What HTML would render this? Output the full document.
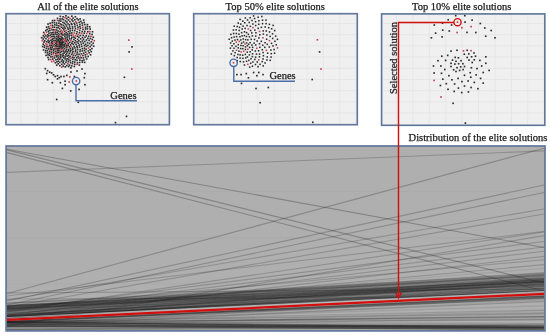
<!DOCTYPE html><html><head><meta charset="utf-8"><style>html,body{margin:0;padding:0;background:#fff;overflow:hidden}svg{display:block}</style></head><body><svg width="550" height="335" viewBox="0 0 550 335"><rect width="550" height="335" fill="#fff"/><rect x="6" y="13.7" width="163.4" height="111.0" fill="#f0f0f1"/><g stroke="#e5e5e7" stroke-width="0.9"><line x1="20.9" y1="14.7" x2="20.9" y2="123.7"/><line x1="37.3" y1="14.7" x2="37.3" y2="123.7"/><line x1="53.7" y1="14.7" x2="53.7" y2="123.7"/><line x1="70.1" y1="14.7" x2="70.1" y2="123.7"/><line x1="86.5" y1="14.7" x2="86.5" y2="123.7"/><line x1="102.9" y1="14.7" x2="102.9" y2="123.7"/><line x1="119.3" y1="14.7" x2="119.3" y2="123.7"/><line x1="135.7" y1="14.7" x2="135.7" y2="123.7"/><line x1="152.1" y1="14.7" x2="152.1" y2="123.7"/><line x1="7" y1="23.5" x2="168.4" y2="23.5"/><line x1="7" y1="34.7" x2="168.4" y2="34.7"/><line x1="7" y1="45.9" x2="168.4" y2="45.9"/><line x1="7" y1="57.1" x2="168.4" y2="57.1"/><line x1="7" y1="68.3" x2="168.4" y2="68.3"/><line x1="7" y1="79.5" x2="168.4" y2="79.5"/><line x1="7" y1="90.7" x2="168.4" y2="90.7"/><line x1="7" y1="101.9" x2="168.4" y2="101.9"/><line x1="7" y1="113.1" x2="168.4" y2="113.1"/></g><rect x="193.7" y="13.7" width="163.60000000000002" height="111.0" fill="#f0f0f1"/><g stroke="#e5e5e7" stroke-width="0.9"><line x1="208.6" y1="14.7" x2="208.6" y2="123.7"/><line x1="225.0" y1="14.7" x2="225.0" y2="123.7"/><line x1="241.4" y1="14.7" x2="241.4" y2="123.7"/><line x1="257.8" y1="14.7" x2="257.8" y2="123.7"/><line x1="274.2" y1="14.7" x2="274.2" y2="123.7"/><line x1="290.6" y1="14.7" x2="290.6" y2="123.7"/><line x1="307.0" y1="14.7" x2="307.0" y2="123.7"/><line x1="323.4" y1="14.7" x2="323.4" y2="123.7"/><line x1="339.8" y1="14.7" x2="339.8" y2="123.7"/><line x1="356.2" y1="14.7" x2="356.2" y2="123.7"/><line x1="194.7" y1="23.5" x2="356.3" y2="23.5"/><line x1="194.7" y1="34.7" x2="356.3" y2="34.7"/><line x1="194.7" y1="45.9" x2="356.3" y2="45.9"/><line x1="194.7" y1="57.1" x2="356.3" y2="57.1"/><line x1="194.7" y1="68.3" x2="356.3" y2="68.3"/><line x1="194.7" y1="79.5" x2="356.3" y2="79.5"/><line x1="194.7" y1="90.7" x2="356.3" y2="90.7"/><line x1="194.7" y1="101.9" x2="356.3" y2="101.9"/><line x1="194.7" y1="113.1" x2="356.3" y2="113.1"/></g><rect x="381.6" y="13.9" width="163.19999999999993" height="111.39999999999999" fill="#f0f0f1"/><g stroke="#e5e5e7" stroke-width="0.9"><line x1="396.5" y1="14.9" x2="396.5" y2="124.3"/><line x1="412.9" y1="14.9" x2="412.9" y2="124.3"/><line x1="429.3" y1="14.9" x2="429.3" y2="124.3"/><line x1="445.7" y1="14.9" x2="445.7" y2="124.3"/><line x1="462.1" y1="14.9" x2="462.1" y2="124.3"/><line x1="478.5" y1="14.9" x2="478.5" y2="124.3"/><line x1="494.9" y1="14.9" x2="494.9" y2="124.3"/><line x1="511.3" y1="14.9" x2="511.3" y2="124.3"/><line x1="527.7" y1="14.9" x2="527.7" y2="124.3"/><line x1="382.6" y1="23.5" x2="543.8" y2="23.5"/><line x1="382.6" y1="34.7" x2="543.8" y2="34.7"/><line x1="382.6" y1="45.9" x2="543.8" y2="45.9"/><line x1="382.6" y1="57.1" x2="543.8" y2="57.1"/><line x1="382.6" y1="68.3" x2="543.8" y2="68.3"/><line x1="382.6" y1="79.5" x2="543.8" y2="79.5"/><line x1="382.6" y1="90.7" x2="543.8" y2="90.7"/><line x1="382.6" y1="101.9" x2="543.8" y2="101.9"/><line x1="382.6" y1="113.1" x2="543.8" y2="113.1"/></g><rect x="61.51" y="42.01" width="1.65" height="1.65" fill="#2b2b2b"/><rect x="60.88" y="42.12" width="1.65" height="1.65" fill="#2b2b2b"/><rect x="61.89" y="41.10" width="1.65" height="1.65" fill="#2b2b2b"/><rect x="61.68" y="43.20" width="1.65" height="1.65" fill="#2b2b2b"/><rect x="60.08" y="41.37" width="1.65" height="1.65" fill="#2b2b2b"/><rect x="62.93" y="41.34" width="1.65" height="1.65" fill="#2b2b2b"/><rect x="60.77" y="43.74" width="1.65" height="1.65" fill="#2b2b2b"/><rect x="61.21" y="39.94" width="1.65" height="1.65" fill="#2b2b2b"/><rect x="63.60" y="43.57" width="1.65" height="1.65" fill="#2b2b2b"/><rect x="59.76" y="42.12" width="1.65" height="1.65" fill="#2b2b2b"/><rect x="63.88" y="39.92" width="1.65" height="1.65" fill="#c43f48"/><rect x="62.26" y="44.32" width="1.65" height="1.65" fill="#2b2b2b"/><rect x="60.01" y="39.76" width="1.65" height="1.65" fill="#c43f48"/><rect x="64.70" y="42.40" width="1.65" height="1.65" fill="#2b2b2b"/><rect x="59.62" y="43.76" width="1.65" height="1.65" fill="#2b2b2b"/><rect x="62.77" y="38.88" width="1.65" height="1.65" fill="#c43f48"/><rect x="63.92" y="44.24" width="1.65" height="1.65" fill="#2b2b2b"/><rect x="58.80" y="40.88" width="1.65" height="1.65" fill="#2b2b2b"/><rect x="65.37" y="40.29" width="1.65" height="1.65" fill="#2b2b2b"/><rect x="61.01" y="45.21" width="1.65" height="1.65" fill="#2b2b2b"/><rect x="60.94" y="38.45" width="1.65" height="1.65" fill="#2b2b2b"/><rect x="65.92" y="43.56" width="1.65" height="1.65" fill="#c43f48"/><rect x="58.63" y="43.06" width="1.65" height="1.65" fill="#2b2b2b"/><rect x="64.40" y="38.75" width="1.65" height="1.65" fill="#c43f48"/><rect x="63.51" y="45.59" width="1.65" height="1.65" fill="#2b2b2b"/><rect x="59.49" y="39.24" width="1.65" height="1.65" fill="#2b2b2b"/><rect x="66.63" y="41.46" width="1.65" height="1.65" fill="#c43f48"/><rect x="59.58" y="45.10" width="1.65" height="1.65" fill="#2b2b2b"/><rect x="62.08" y="37.56" width="1.65" height="1.65" fill="#2b2b2b"/><rect x="65.98" y="45.02" width="1.65" height="1.65" fill="#2b2b2b"/><rect x="58.36" y="41.48" width="1.65" height="1.65" fill="#2b2b2b"/><rect x="66.39" y="38.86" width="1.65" height="1.65" fill="#2b2b2b"/><rect x="62.15" y="46.47" width="1.65" height="1.65" fill="#2b2b2b"/><rect x="60.20" y="38.13" width="1.65" height="1.65" fill="#2b2b2b"/><rect x="67.56" y="42.95" width="1.65" height="1.65" fill="#2b2b2b"/><rect x="58.14" y="44.42" width="1.65" height="1.65" fill="#2b2b2b"/><rect x="64.46" y="37.24" width="1.65" height="1.65" fill="#2b2b2b"/><rect x="65.27" y="46.31" width="1.65" height="1.65" fill="#2b2b2b"/><rect x="57.92" y="39.85" width="1.65" height="1.65" fill="#2b2b2b"/><rect x="67.60" y="39.88" width="1.65" height="1.65" fill="#2b2b2b"/><rect x="60.18" y="46.30" width="1.65" height="1.65" fill="#2b2b2b"/><rect x="61.21" y="36.58" width="1.65" height="1.65" fill="#2b2b2b"/><rect x="67.45" y="44.56" width="1.65" height="1.65" fill="#2b2b2b"/><rect x="57.32" y="42.96" width="1.65" height="1.65" fill="#c43f48"/><rect x="66.25" y="37.10" width="1.65" height="1.65" fill="#2b2b2b"/><rect x="63.59" y="47.80" width="1.65" height="1.65" fill="#2b2b2b"/><rect x="58.93" y="37.94" width="1.65" height="1.65" fill="#2b2b2b"/><rect x="68.95" y="41.64" width="1.65" height="1.65" fill="#2b2b2b"/><rect x="58.53" y="46.07" width="1.65" height="1.65" fill="#2b2b2b"/><rect x="64.01" y="35.30" width="1.65" height="1.65" fill="#2b2b2b"/><rect x="66.73" y="46.45" width="1.65" height="1.65" fill="#c43f48"/><rect x="56.78" y="40.55" width="1.65" height="1.65" fill="#2b2b2b"/><rect x="68.67" y="38.07" width="1.65" height="1.65" fill="#2b2b2b"/><rect x="61.20" y="47.85" width="1.65" height="1.65" fill="#2b2b2b"/><rect x="60.15" y="35.89" width="1.65" height="1.65" fill="#2b2b2b"/><rect x="69.81" y="44.06" width="1.65" height="1.65" fill="#2b2b2b"/><rect x="57.12" y="44.27" width="1.65" height="1.65" fill="#c43f48"/><rect x="66.32" y="35.20" width="1.65" height="1.65" fill="#2b2b2b"/><rect x="65.66" y="48.36" width="1.65" height="1.65" fill="#2b2b2b"/><rect x="57.65" y="38.37" width="1.65" height="1.65" fill="#2b2b2b"/><rect x="70.13" y="40.06" width="1.65" height="1.65" fill="#c43f48"/><rect x="59.06" y="47.48" width="1.65" height="1.65" fill="#2b2b2b"/><rect x="62.21" y="34.24" width="1.65" height="1.65" fill="#2b2b2b"/><rect x="68.74" y="46.01" width="1.65" height="1.65" fill="#2b2b2b"/><rect x="56.09" y="41.58" width="1.65" height="1.65" fill="#c43f48"/><rect x="68.34" y="36.18" width="1.65" height="1.65" fill="#2b2b2b"/><rect x="62.88" y="48.89" width="1.65" height="1.65" fill="#c43f48"/><rect x="58.41" y="36.11" width="1.65" height="1.65" fill="#c43f48"/><rect x="71.10" y="42.35" width="1.65" height="1.65" fill="#2b2b2b"/><rect x="57.14" y="45.81" width="1.65" height="1.65" fill="#2b2b2b"/><rect x="65.18" y="33.82" width="1.65" height="1.65" fill="#2b2b2b"/><rect x="67.69" y="48.64" width="1.65" height="1.65" fill="#2b2b2b"/><rect x="56.16" y="39.17" width="1.65" height="1.65" fill="#2b2b2b"/><rect x="70.51" y="37.98" width="1.65" height="1.65" fill="#2b2b2b"/><rect x="60.48" y="48.71" width="1.65" height="1.65" fill="#c43f48"/><rect x="61.20" y="33.77" width="1.65" height="1.65" fill="#2b2b2b"/><rect x="70.51" y="45.62" width="1.65" height="1.65" fill="#c43f48"/><rect x="55.86" y="43.36" width="1.65" height="1.65" fill="#2b2b2b"/><rect x="68.21" y="34.31" width="1.65" height="1.65" fill="#2b2b2b"/><rect x="65.16" y="50.02" width="1.65" height="1.65" fill="#2b2b2b"/><rect x="57.44" y="36.55" width="1.65" height="1.65" fill="#2b2b2b"/><rect x="71.99" y="40.74" width="1.65" height="1.65" fill="#2b2b2b"/><rect x="57.82" y="47.91" width="1.65" height="1.65" fill="#2b2b2b"/><rect x="63.90" y="33.18" width="1.65" height="1.65" fill="#2b2b2b"/><rect x="69.49" y="47.68" width="1.65" height="1.65" fill="#2b2b2b"/><rect x="55.46" y="41.04" width="1.65" height="1.65" fill="#2b2b2b"/><rect x="71.07" y="36.45" width="1.65" height="1.65" fill="#2b2b2b"/><rect x="62.54" y="50.30" width="1.65" height="1.65" fill="#2b2b2b"/><rect x="59.02" y="34.02" width="1.65" height="1.65" fill="#c43f48"/><rect x="72.41" y="43.52" width="1.65" height="1.65" fill="#2b2b2b"/><rect x="55.64" y="45.41" width="1.65" height="1.65" fill="#2b2b2b"/><rect x="66.94" y="33.15" width="1.65" height="1.65" fill="#2b2b2b"/><rect x="67.72" y="49.85" width="1.65" height="1.65" fill="#2b2b2b"/><rect x="56.04" y="37.89" width="1.65" height="1.65" fill="#2b2b2b"/><rect x="73.13" y="38.67" width="1.65" height="1.65" fill="#2b2b2b"/><rect x="59.14" y="49.26" width="1.65" height="1.65" fill="#c43f48"/><rect x="61.88" y="32.13" width="1.65" height="1.65" fill="#c43f48"/><rect x="71.80" y="47.18" width="1.65" height="1.65" fill="#2b2b2b"/><rect x="54.94" y="42.59" width="1.65" height="1.65" fill="#2b2b2b"/><rect x="70.37" y="34.42" width="1.65" height="1.65" fill="#2b2b2b"/><rect x="64.16" y="51.11" width="1.65" height="1.65" fill="#2b2b2b"/><rect x="57.66" y="34.77" width="1.65" height="1.65" fill="#2b2b2b"/><rect x="73.99" y="41.92" width="1.65" height="1.65" fill="#2b2b2b"/><rect x="56.42" y="47.83" width="1.65" height="1.65" fill="#2b2b2b"/><rect x="65.42" y="31.93" width="1.65" height="1.65" fill="#2b2b2b"/><rect x="70.10" y="49.47" width="1.65" height="1.65" fill="#2b2b2b"/><rect x="54.48" y="39.50" width="1.65" height="1.65" fill="#2b2b2b"/><rect x="73.06" y="36.28" width="1.65" height="1.65" fill="#2b2b2b"/><rect x="60.87" y="50.70" width="1.65" height="1.65" fill="#2b2b2b"/><rect x="60.36" y="32.44" width="1.65" height="1.65" fill="#2b2b2b"/><rect x="73.35" y="45.60" width="1.65" height="1.65" fill="#2b2b2b"/><rect x="55.00" y="44.91" width="1.65" height="1.65" fill="#2b2b2b"/><rect x="69.02" y="32.38" width="1.65" height="1.65" fill="#2b2b2b"/><rect x="66.62" y="51.04" width="1.65" height="1.65" fill="#2b2b2b"/><rect x="55.97" y="35.83" width="1.65" height="1.65" fill="#2b2b2b"/><rect x="74.64" y="39.98" width="1.65" height="1.65" fill="#2b2b2b"/><rect x="57.84" y="49.89" width="1.65" height="1.65" fill="#2b2b2b"/><rect x="63.79" y="30.67" width="1.65" height="1.65" fill="#2b2b2b"/><rect x="71.95" y="48.47" width="1.65" height="1.65" fill="#2b2b2b"/><rect x="53.57" y="41.32" width="1.65" height="1.65" fill="#c43f48"/><rect x="72.21" y="34.16" width="1.65" height="1.65" fill="#c43f48"/><rect x="63.11" y="52.36" width="1.65" height="1.65" fill="#2b2b2b"/><rect x="57.85" y="32.68" width="1.65" height="1.65" fill="#2b2b2b"/><rect x="75.20" y="43.64" width="1.65" height="1.65" fill="#2b2b2b"/><rect x="55.14" y="47.41" width="1.65" height="1.65" fill="#2b2b2b"/><rect x="67.45" y="30.80" width="1.65" height="1.65" fill="#2b2b2b"/><rect x="69.49" y="50.85" width="1.65" height="1.65" fill="#2b2b2b"/><rect x="54.10" y="37.20" width="1.65" height="1.65" fill="#2b2b2b"/><rect x="74.52" y="37.41" width="1.65" height="1.65" fill="#2b2b2b"/><rect x="59.46" y="51.40" width="1.65" height="1.65" fill="#2b2b2b"/><rect x="61.46" y="30.60" width="1.65" height="1.65" fill="#c43f48"/><rect x="74.16" y="47.11" width="1.65" height="1.65" fill="#2b2b2b"/><rect x="53.51" y="43.84" width="1.65" height="1.65" fill="#2b2b2b"/><rect x="70.98" y="32.10" width="1.65" height="1.65" fill="#2b2b2b"/><rect x="65.78" y="52.54" width="1.65" height="1.65" fill="#2b2b2b"/><rect x="56.09" y="33.81" width="1.65" height="1.65" fill="#2b2b2b"/><rect x="76.24" y="41.14" width="1.65" height="1.65" fill="#2b2b2b"/><rect x="56.62" y="49.37" width="1.65" height="1.65" fill="#2b2b2b"/><rect x="65.41" y="29.66" width="1.65" height="1.65" fill="#c43f48"/><rect x="72.10" y="50.51" width="1.65" height="1.65" fill="#2b2b2b"/><rect x="53.01" y="39.63" width="1.65" height="1.65" fill="#2b2b2b"/><rect x="74.47" y="34.95" width="1.65" height="1.65" fill="#c43f48"/><rect x="62.12" y="53.11" width="1.65" height="1.65" fill="#2b2b2b"/><rect x="59.22" y="30.71" width="1.65" height="1.65" fill="#2b2b2b"/><rect x="76.16" y="45.36" width="1.65" height="1.65" fill="#2b2b2b"/><rect x="54.02" y="45.96" width="1.65" height="1.65" fill="#c43f48"/><rect x="69.29" y="30.14" width="1.65" height="1.65" fill="#2b2b2b"/><rect x="68.46" y="52.55" width="1.65" height="1.65" fill="#2b2b2b"/><rect x="53.77" y="35.61" width="1.65" height="1.65" fill="#2b2b2b"/><rect x="76.87" y="38.55" width="1.65" height="1.65" fill="#2b2b2b"/><rect x="57.82" y="51.68" width="1.65" height="1.65" fill="#2b2b2b"/><rect x="62.98" y="28.83" width="1.65" height="1.65" fill="#2b2b2b"/><rect x="74.82" y="49.27" width="1.65" height="1.65" fill="#2b2b2b"/><rect x="52.25" y="42.47" width="1.65" height="1.65" fill="#c43f48"/><rect x="73.37" y="32.17" width="1.65" height="1.65" fill="#c43f48"/><rect x="65.03" y="54.02" width="1.65" height="1.65" fill="#2b2b2b"/><rect x="56.30" y="31.79" width="1.65" height="1.65" fill="#2b2b2b"/><rect x="77.49" y="42.43" width="1.65" height="1.65" fill="#2b2b2b"/><rect x="54.52" y="48.67" width="1.65" height="1.65" fill="#c43f48"/><rect x="67.50" y="28.39" width="1.65" height="1.65" fill="#2b2b2b"/><rect x="71.67" y="52.09" width="1.65" height="1.65" fill="#2b2b2b"/><rect x="52.27" y="37.59" width="1.65" height="1.65" fill="#2b2b2b"/><rect x="76.58" y="35.48" width="1.65" height="1.65" fill="#2b2b2b"/><rect x="60.05" y="53.64" width="1.65" height="1.65" fill="#2b2b2b"/><rect x="60.42" y="29.48" width="1.65" height="1.65" fill="#c43f48"/><rect x="76.44" y="46.76" width="1.65" height="1.65" fill="#2b2b2b"/><rect x="52.15" y="45.13" width="1.65" height="1.65" fill="#2b2b2b"/><rect x="71.62" y="29.70" width="1.65" height="1.65" fill="#2b2b2b"/><rect x="67.61" y="54.41" width="1.65" height="1.65" fill="#2b2b2b"/><rect x="54.57" y="33.26" width="1.65" height="1.65" fill="#2b2b2b"/><rect x="78.00" y="40.00" width="1.65" height="1.65" fill="#2b2b2b"/><rect x="56.38" y="51.39" width="1.65" height="1.65" fill="#2b2b2b"/><rect x="64.45" y="27.52" width="1.65" height="1.65" fill="#2b2b2b"/><rect x="74.54" y="50.80" width="1.65" height="1.65" fill="#2b2b2b"/><rect x="51.37" y="40.67" width="1.65" height="1.65" fill="#2b2b2b"/><rect x="75.72" y="32.90" width="1.65" height="1.65" fill="#2b2b2b"/><rect x="62.82" y="54.85" width="1.65" height="1.65" fill="#2b2b2b"/><rect x="57.24" y="30.15" width="1.65" height="1.65" fill="#2b2b2b"/><rect x="78.39" y="44.27" width="1.65" height="1.65" fill="#2b2b2b"/><rect x="53.20" y="48.10" width="1.65" height="1.65" fill="#2b2b2b"/><rect x="69.39" y="27.88" width="1.65" height="1.65" fill="#2b2b2b"/><rect x="70.79" y="53.60" width="1.65" height="1.65" fill="#2b2b2b"/><rect x="52.23" y="35.39" width="1.65" height="1.65" fill="#2b2b2b"/><rect x="78.04" y="36.46" width="1.65" height="1.65" fill="#2b2b2b"/><rect x="58.41" y="53.26" width="1.65" height="1.65" fill="#c43f48"/><rect x="62.06" y="27.44" width="1.65" height="1.65" fill="#2b2b2b"/><rect x="76.92" y="48.71" width="1.65" height="1.65" fill="#2b2b2b"/><rect x="51.23" y="42.99" width="1.65" height="1.65" fill="#2b2b2b"/><rect x="73.91" y="29.78" width="1.65" height="1.65" fill="#2b2b2b"/><rect x="66.38" y="55.33" width="1.65" height="1.65" fill="#2b2b2b"/><rect x="54.78" y="31.31" width="1.65" height="1.65" fill="#2b2b2b"/><rect x="79.86" y="41.16" width="1.65" height="1.65" fill="#2b2b2b"/><rect x="54.78" y="50.54" width="1.65" height="1.65" fill="#2b2b2b"/><rect x="66.86" y="27.10" width="1.65" height="1.65" fill="#2b2b2b"/><rect x="73.78" y="52.75" width="1.65" height="1.65" fill="#c43f48"/><rect x="51.29" y="38.67" width="1.65" height="1.65" fill="#2b2b2b"/><rect x="77.62" y="33.84" width="1.65" height="1.65" fill="#c43f48"/><rect x="61.44" y="55.19" width="1.65" height="1.65" fill="#2b2b2b"/><rect x="58.84" y="27.94" width="1.65" height="1.65" fill="#2b2b2b"/><rect x="78.70" y="46.16" width="1.65" height="1.65" fill="#2b2b2b"/><rect x="51.41" y="46.61" width="1.65" height="1.65" fill="#2b2b2b"/><rect x="71.74" y="27.68" width="1.65" height="1.65" fill="#2b2b2b"/><rect x="69.25" y="55.53" width="1.65" height="1.65" fill="#2b2b2b"/><rect x="53.02" y="33.55" width="1.65" height="1.65" fill="#2b2b2b"/><rect x="79.85" y="38.04" width="1.65" height="1.65" fill="#2b2b2b"/><rect x="56.47" y="53.09" width="1.65" height="1.65" fill="#c43f48"/><rect x="63.59" y="26.21" width="1.65" height="1.65" fill="#2b2b2b"/><rect x="76.56" y="51.32" width="1.65" height="1.65" fill="#2b2b2b"/><rect x="50.76" y="41.45" width="1.65" height="1.65" fill="#2b2b2b"/><rect x="76.21" y="31.01" width="1.65" height="1.65" fill="#2b2b2b"/><rect x="64.35" y="56.09" width="1.65" height="1.65" fill="#2b2b2b"/><rect x="55.67" y="29.17" width="1.65" height="1.65" fill="#2b2b2b"/><rect x="80.52" y="43.43" width="1.65" height="1.65" fill="#2b2b2b"/><rect x="52.61" y="49.55" width="1.65" height="1.65" fill="#2b2b2b"/><rect x="68.84" y="26.06" width="1.65" height="1.65" fill="#2b2b2b"/><rect x="72.61" y="54.48" width="1.65" height="1.65" fill="#2b2b2b"/><rect x="50.66" y="35.77" width="1.65" height="1.65" fill="#2b2b2b"/><rect x="79.56" y="34.71" width="1.65" height="1.65" fill="#2b2b2b"/><rect x="59.36" y="55.25" width="1.65" height="1.65" fill="#2b2b2b"/><rect x="60.80" y="26.47" width="1.65" height="1.65" fill="#2b2b2b"/><rect x="79.37" y="48.86" width="1.65" height="1.65" fill="#2b2b2b"/><rect x="50.34" y="44.62" width="1.65" height="1.65" fill="#2b2b2b"/><rect x="74.68" y="27.83" width="1.65" height="1.65" fill="#2b2b2b"/><rect x="68.11" y="56.69" width="1.65" height="1.65" fill="#2b2b2b"/><rect x="53.06" y="31.41" width="1.65" height="1.65" fill="#c43f48"/><rect x="81.66" y="40.17" width="1.65" height="1.65" fill="#2b2b2b"/><rect x="54.82" y="52.67" width="1.65" height="1.65" fill="#2b2b2b"/><rect x="65.80" y="25.20" width="1.65" height="1.65" fill="#2b2b2b"/><rect x="76.11" y="53.29" width="1.65" height="1.65" fill="#2b2b2b"/><rect x="50.03" y="39.48" width="1.65" height="1.65" fill="#2b2b2b"/><rect x="78.68" y="31.91" width="1.65" height="1.65" fill="#2b2b2b"/><rect x="62.62" y="56.91" width="1.65" height="1.65" fill="#2b2b2b"/><rect x="57.22" y="26.93" width="1.65" height="1.65" fill="#2b2b2b"/><rect x="80.92" y="45.53" width="1.65" height="1.65" fill="#2b2b2b"/><rect x="50.90" y="48.36" width="1.65" height="1.65" fill="#2b2b2b"/><rect x="71.71" y="26.04" width="1.65" height="1.65" fill="#2b2b2b"/><rect x="71.64" y="56.34" width="1.65" height="1.65" fill="#2b2b2b"/><rect x="51.15" y="33.40" width="1.65" height="1.65" fill="#2b2b2b"/><rect x="81.67" y="36.71" width="1.65" height="1.65" fill="#2b2b2b"/><rect x="57.19" y="55.02" width="1.65" height="1.65" fill="#2b2b2b"/><rect x="62.76" y="24.59" width="1.65" height="1.65" fill="#2b2b2b"/><rect x="79.17" y="50.66" width="1.65" height="1.65" fill="#2b2b2b"/><rect x="49.06" y="42.56" width="1.65" height="1.65" fill="#c43f48"/><rect x="76.94" y="28.43" width="1.65" height="1.65" fill="#c43f48"/><rect x="66.24" y="57.95" width="1.65" height="1.65" fill="#2b2b2b"/><rect x="54.37" y="28.84" width="1.65" height="1.65" fill="#c43f48"/><rect x="82.45" y="42.33" width="1.65" height="1.65" fill="#2b2b2b"/><rect x="52.91" y="51.48" width="1.65" height="1.65" fill="#2b2b2b"/><rect x="68.59" y="24.16" width="1.65" height="1.65" fill="#2b2b2b"/><rect x="74.85" y="54.87" width="1.65" height="1.65" fill="#2b2b2b"/><rect x="49.69" y="36.75" width="1.65" height="1.65" fill="#c43f48"/><rect x="80.78" y="32.64" width="1.65" height="1.65" fill="#c43f48"/><rect x="60.01" y="56.83" width="1.65" height="1.65" fill="#2b2b2b"/><rect x="59.28" y="25.55" width="1.65" height="1.65" fill="#c43f48"/><rect x="81.54" y="47.81" width="1.65" height="1.65" fill="#2b2b2b"/><rect x="49.72" y="46.33" width="1.65" height="1.65" fill="#2b2b2b"/><rect x="74.22" y="25.80" width="1.65" height="1.65" fill="#2b2b2b"/><rect x="70.14" y="57.46" width="1.65" height="1.65" fill="#c43f48"/><rect x="52.05" y="31.64" width="1.65" height="1.65" fill="#2b2b2b"/><rect x="82.64" y="38.47" width="1.65" height="1.65" fill="#2b2b2b"/><rect x="55.25" y="54.69" width="1.65" height="1.65" fill="#2b2b2b"/><rect x="64.92" y="23.54" width="1.65" height="1.65" fill="#2b2b2b"/><rect x="78.18" y="53.39" width="1.65" height="1.65" fill="#2b2b2b"/><rect x="48.38" y="40.51" width="1.65" height="1.65" fill="#2b2b2b"/><rect x="78.92" y="29.61" width="1.65" height="1.65" fill="#2b2b2b"/><rect x="64.25" y="58.06" width="1.65" height="1.65" fill="#2b2b2b"/><rect x="55.98" y="26.77" width="1.65" height="1.65" fill="#2b2b2b"/><rect x="83.45" y="44.69" width="1.65" height="1.65" fill="#2b2b2b"/><rect x="50.70" y="50.23" width="1.65" height="1.65" fill="#c43f48"/><rect x="71.09" y="23.75" width="1.65" height="1.65" fill="#2b2b2b"/><rect x="73.34" y="56.88" width="1.65" height="1.65" fill="#2b2b2b"/><rect x="49.55" y="34.25" width="1.65" height="1.65" fill="#2b2b2b"/><rect x="82.39" y="34.58" width="1.65" height="1.65" fill="#2b2b2b"/><rect x="57.89" y="57.08" width="1.65" height="1.65" fill="#2b2b2b"/><rect x="60.88" y="23.96" width="1.65" height="1.65" fill="#2b2b2b"/><rect x="81.48" y="50.11" width="1.65" height="1.65" fill="#2b2b2b"/><rect x="48.76" y="44.42" width="1.65" height="1.65" fill="#2b2b2b"/><rect x="77.12" y="26.43" width="1.65" height="1.65" fill="#2b2b2b"/><rect x="67.77" y="58.78" width="1.65" height="1.65" fill="#2b2b2b"/><rect x="53.01" y="28.98" width="1.65" height="1.65" fill="#2b2b2b"/><rect x="84.07" y="40.69" width="1.65" height="1.65" fill="#2b2b2b"/><rect x="52.73" y="53.01" width="1.65" height="1.65" fill="#c43f48"/><rect x="67.22" y="23.07" width="1.65" height="1.65" fill="#2b2b2b"/><rect x="77.20" y="55.56" width="1.65" height="1.65" fill="#2b2b2b"/><rect x="47.97" y="37.80" width="1.65" height="1.65" fill="#c43f48"/><rect x="81.45" y="30.74" width="1.65" height="1.65" fill="#2b2b2b"/><rect x="61.50" y="58.99" width="1.65" height="1.65" fill="#2b2b2b"/><rect x="57.78" y="24.96" width="1.65" height="1.65" fill="#2b2b2b"/><rect x="83.60" y="47.33" width="1.65" height="1.65" fill="#2b2b2b"/><rect x="49.52" y="48.18" width="1.65" height="1.65" fill="#2b2b2b"/><rect x="73.97" y="23.79" width="1.65" height="1.65" fill="#2b2b2b"/><rect x="72.08" y="58.49" width="1.65" height="1.65" fill="#2b2b2b"/><rect x="50.21" y="31.90" width="1.65" height="1.65" fill="#2b2b2b"/><rect x="84.16" y="36.41" width="1.65" height="1.65" fill="#2b2b2b"/><rect x="55.96" y="56.01" width="1.65" height="1.65" fill="#2b2b2b"/><rect x="63.59" y="22.32" width="1.65" height="1.65" fill="#2b2b2b"/><rect x="80.51" y="52.98" width="1.65" height="1.65" fill="#2b2b2b"/><rect x="47.84" y="41.73" width="1.65" height="1.65" fill="#2b2b2b"/><rect x="79.51" y="27.37" width="1.65" height="1.65" fill="#2b2b2b"/><rect x="65.62" y="59.65" width="1.65" height="1.65" fill="#2b2b2b"/><rect x="53.77" y="26.32" width="1.65" height="1.65" fill="#2b2b2b"/><rect x="84.81" y="43.50" width="1.65" height="1.65" fill="#2b2b2b"/><rect x="50.83" y="51.70" width="1.65" height="1.65" fill="#2b2b2b"/><rect x="70.51" y="22.69" width="1.65" height="1.65" fill="#2b2b2b"/><rect x="75.88" y="57.04" width="1.65" height="1.65" fill="#2b2b2b"/><rect x="47.85" y="35.02" width="1.65" height="1.65" fill="#2b2b2b"/><rect x="83.42" y="32.41" width="1.65" height="1.65" fill="#2b2b2b"/><rect x="58.92" y="58.46" width="1.65" height="1.65" fill="#2b2b2b"/><rect x="59.66" y="23.20" width="1.65" height="1.65" fill="#2b2b2b"/><rect x="83.59" y="49.58" width="1.65" height="1.65" fill="#2b2b2b"/><rect x="47.70" y="46.02" width="1.65" height="1.65" fill="#c43f48"/><rect x="76.49" y="24.44" width="1.65" height="1.65" fill="#2b2b2b"/><rect x="69.51" y="59.74" width="1.65" height="1.65" fill="#2b2b2b"/><rect x="51.22" y="28.94" width="1.65" height="1.65" fill="#2b2b2b"/><rect x="85.66" y="39.16" width="1.65" height="1.65" fill="#2b2b2b"/><rect x="53.56" y="55.10" width="1.65" height="1.65" fill="#c43f48"/><rect x="66.07" y="21.23" width="1.65" height="1.65" fill="#2b2b2b"/><rect x="79.57" y="55.15" width="1.65" height="1.65" fill="#c43f48"/><rect x="47.20" y="39.53" width="1.65" height="1.65" fill="#2b2b2b"/><rect x="82.11" y="28.52" width="1.65" height="1.65" fill="#2b2b2b"/><rect x="62.76" y="60.37" width="1.65" height="1.65" fill="#2b2b2b"/><rect x="56.01" y="24.32" width="1.65" height="1.65" fill="#2b2b2b"/><rect x="85.52" y="45.52" width="1.65" height="1.65" fill="#2b2b2b"/><rect x="48.86" y="50.38" width="1.65" height="1.65" fill="#2b2b2b"/><rect x="73.31" y="22.49" width="1.65" height="1.65" fill="#2b2b2b"/><rect x="74.42" y="58.96" width="1.65" height="1.65" fill="#2b2b2b"/><rect x="48.11" y="32.32" width="1.65" height="1.65" fill="#2b2b2b"/><rect x="85.39" y="34.92" width="1.65" height="1.65" fill="#2b2b2b"/><rect x="56.86" y="58.32" width="1.65" height="1.65" fill="#2b2b2b"/><rect x="62.13" y="21.57" width="1.65" height="1.65" fill="#2b2b2b"/><rect x="82.86" y="52.30" width="1.65" height="1.65" fill="#2b2b2b"/><rect x="46.27" y="43.75" width="1.65" height="1.65" fill="#c43f48"/><rect x="79.12" y="25.71" width="1.65" height="1.65" fill="#2b2b2b"/><rect x="67.53" y="60.81" width="1.65" height="1.65" fill="#2b2b2b"/><rect x="51.90" y="26.48" width="1.65" height="1.65" fill="#2b2b2b"/><rect x="86.75" y="41.79" width="1.65" height="1.65" fill="#2b2b2b"/><rect x="50.76" y="53.61" width="1.65" height="1.65" fill="#2b2b2b"/><rect x="69.09" y="20.80" width="1.65" height="1.65" fill="#2b2b2b"/><rect x="78.12" y="57.25" width="1.65" height="1.65" fill="#2b2b2b"/><rect x="46.70" y="36.16" width="1.65" height="1.65" fill="#2b2b2b"/><rect x="83.99" y="30.57" width="1.65" height="1.65" fill="#2b2b2b"/><rect x="60.75" y="60.43" width="1.65" height="1.65" fill="#2b2b2b"/><rect x="58.09" y="22.31" width="1.65" height="1.65" fill="#2b2b2b"/><rect x="85.29" y="48.45" width="1.65" height="1.65" fill="#2b2b2b"/><rect x="47.58" y="48.05" width="1.65" height="1.65" fill="#2b2b2b"/><rect x="75.86" y="22.23" width="1.65" height="1.65" fill="#2b2b2b"/><rect x="71.92" y="60.84" width="1.65" height="1.65" fill="#2b2b2b"/><rect x="49.06" y="29.61" width="1.65" height="1.65" fill="#2b2b2b"/><rect x="87.03" y="37.50" width="1.65" height="1.65" fill="#2b2b2b"/><rect x="53.79" y="56.96" width="1.65" height="1.65" fill="#2b2b2b"/><rect x="64.61" y="20.10" width="1.65" height="1.65" fill="#2b2b2b"/><rect x="82.05" y="54.63" width="1.65" height="1.65" fill="#2b2b2b"/><rect x="45.96" y="41.02" width="1.65" height="1.65" fill="#2b2b2b"/><rect x="81.95" y="26.50" width="1.65" height="1.65" fill="#c43f48"/><rect x="65.12" y="61.51" width="1.65" height="1.65" fill="#2b2b2b"/><rect x="54.06" y="24.04" width="1.65" height="1.65" fill="#2b2b2b"/><rect x="87.06" y="44.62" width="1.65" height="1.65" fill="#2b2b2b"/><rect x="48.76" y="52.43" width="1.65" height="1.65" fill="#2b2b2b"/><rect x="72.05" y="20.27" width="1.65" height="1.65" fill="#2b2b2b"/><rect x="76.17" y="59.45" width="1.65" height="1.65" fill="#2b2b2b"/><rect x="46.90" y="33.91" width="1.65" height="1.65" fill="#2b2b2b"/><rect x="85.92" y="32.64" width="1.65" height="1.65" fill="#c43f48"/><rect x="57.48" y="60.34" width="1.65" height="1.65" fill="#2b2b2b"/><rect x="60.01" y="20.25" width="1.65" height="1.65" fill="#2b2b2b"/><rect x="84.75" y="51.37" width="1.65" height="1.65" fill="#2b2b2b"/><rect x="46.14" y="45.68" width="1.65" height="1.65" fill="#2b2b2b"/><rect x="79.07" y="23.68" width="1.65" height="1.65" fill="#2b2b2b"/><rect x="69.74" y="61.87" width="1.65" height="1.65" fill="#2b2b2b"/><rect x="50.06" y="27.33" width="1.65" height="1.65" fill="#c43f48"/><rect x="88.27" y="39.56" width="1.65" height="1.65" fill="#2b2b2b"/><rect x="51.59" y="55.88" width="1.65" height="1.65" fill="#2b2b2b"/><rect x="67.56" y="19.19" width="1.65" height="1.65" fill="#2b2b2b"/><rect x="80.29" y="56.97" width="1.65" height="1.65" fill="#2b2b2b"/><rect x="45.15" y="37.84" width="1.65" height="1.65" fill="#2b2b2b"/><rect x="84.75" y="28.16" width="1.65" height="1.65" fill="#2b2b2b"/><rect x="62.31" y="61.72" width="1.65" height="1.65" fill="#2b2b2b"/><rect x="55.80" y="22.21" width="1.65" height="1.65" fill="#2b2b2b"/><rect x="87.65" y="47.32" width="1.65" height="1.65" fill="#c43f48"/><rect x="46.66" y="49.92" width="1.65" height="1.65" fill="#2b2b2b"/><rect x="75.03" y="20.96" width="1.65" height="1.65" fill="#c43f48"/><rect x="73.93" y="61.23" width="1.65" height="1.65" fill="#2b2b2b"/><rect x="47.64" y="30.31" width="1.65" height="1.65" fill="#2b2b2b"/><rect x="87.85" y="35.39" width="1.65" height="1.65" fill="#2b2b2b"/><rect x="55.09" y="58.93" width="1.65" height="1.65" fill="#2b2b2b"/><rect x="62.67" y="18.82" width="1.65" height="1.65" fill="#2b2b2b"/><rect x="84.47" y="54.06" width="1.65" height="1.65" fill="#2b2b2b"/><rect x="44.97" y="42.91" width="1.65" height="1.65" fill="#c43f48"/><rect x="81.63" y="24.39" width="1.65" height="1.65" fill="#2b2b2b"/><rect x="67.01" y="62.98" width="1.65" height="1.65" fill="#c43f48"/><rect x="51.70" y="24.54" width="1.65" height="1.65" fill="#2b2b2b"/><rect x="88.75" y="42.63" width="1.65" height="1.65" fill="#2b2b2b"/><rect x="48.75" y="54.41" width="1.65" height="1.65" fill="#2b2b2b"/><rect x="71.04" y="18.96" width="1.65" height="1.65" fill="#2b2b2b"/><rect x="79.01" y="59.29" width="1.65" height="1.65" fill="#2b2b2b"/><rect x="45.07" y="34.88" width="1.65" height="1.65" fill="#2b2b2b"/><rect x="87.01" y="30.85" width="1.65" height="1.65" fill="#2b2b2b"/><rect x="58.97" y="61.61" width="1.65" height="1.65" fill="#2b2b2b"/><rect x="58.28" y="19.99" width="1.65" height="1.65" fill="#2b2b2b"/><rect x="87.44" y="50.14" width="1.65" height="1.65" fill="#2b2b2b"/><rect x="45.54" y="47.59" width="1.65" height="1.65" fill="#2b2b2b"/><rect x="78.42" y="21.49" width="1.65" height="1.65" fill="#2b2b2b"/><rect x="71.68" y="62.70" width="1.65" height="1.65" fill="#2b2b2b"/><rect x="48.26" y="27.59" width="1.65" height="1.65" fill="#2b2b2b"/><rect x="89.51" y="37.63" width="1.65" height="1.65" fill="#2b2b2b"/><rect x="51.96" y="58.22" width="1.65" height="1.65" fill="#2b2b2b"/><rect x="65.82" y="17.75" width="1.65" height="1.65" fill="#2b2b2b"/><rect x="82.52" y="56.97" width="1.65" height="1.65" fill="#2b2b2b"/><rect x="43.98" y="39.96" width="1.65" height="1.65" fill="#2b2b2b"/><rect x="84.70" y="26.54" width="1.65" height="1.65" fill="#2b2b2b"/><rect x="63.58" y="63.10" width="1.65" height="1.65" fill="#2b2b2b"/><rect x="53.59" y="21.92" width="1.65" height="1.65" fill="#2b2b2b"/><rect x="89.37" y="45.82" width="1.65" height="1.65" fill="#2b2b2b"/><rect x="46.74" y="52.03" width="1.65" height="1.65" fill="#2b2b2b"/><rect x="74.03" y="18.99" width="1.65" height="1.65" fill="#2b2b2b"/><rect x="76.65" y="61.92" width="1.65" height="1.65" fill="#2b2b2b"/><rect x="45.77" y="31.50" width="1.65" height="1.65" fill="#c43f48"/><rect x="88.89" y="32.86" width="1.65" height="1.65" fill="#2b2b2b"/><rect x="56.12" y="61.09" width="1.65" height="1.65" fill="#2b2b2b"/><rect x="61.25" y="18.11" width="1.65" height="1.65" fill="#2b2b2b"/><rect x="86.20" y="53.18" width="1.65" height="1.65" fill="#c43f48"/><rect x="43.76" y="44.86" width="1.65" height="1.65" fill="#2b2b2b"/><rect x="81.28" y="22.27" width="1.65" height="1.65" fill="#2b2b2b"/><rect x="68.69" y="64.31" width="1.65" height="1.65" fill="#2b2b2b"/><rect x="49.86" y="24.64" width="1.65" height="1.65" fill="#c43f48"/><rect x="90.51" y="41.04" width="1.65" height="1.65" fill="#2b2b2b"/><rect x="49.89" y="56.12" width="1.65" height="1.65" fill="#2b2b2b"/><rect x="69.17" y="17.63" width="1.65" height="1.65" fill="#c43f48"/><rect x="81.30" y="59.77" width="1.65" height="1.65" fill="#2b2b2b"/><rect x="43.52" y="36.30" width="1.65" height="1.65" fill="#2b2b2b"/><rect x="86.65" y="28.05" width="1.65" height="1.65" fill="#2b2b2b"/><rect x="60.98" y="63.50" width="1.65" height="1.65" fill="#2b2b2b"/><rect x="56.56" y="19.60" width="1.65" height="1.65" fill="#c43f48"/><rect x="89.35" y="48.99" width="1.65" height="1.65" fill="#2b2b2b"/><rect x="44.84" y="49.77" width="1.65" height="1.65" fill="#2b2b2b"/><rect x="77.51" y="19.06" width="1.65" height="1.65" fill="#2b2b2b"/><rect x="73.96" y="63.52" width="1.65" height="1.65" fill="#2b2b2b"/><rect x="46.31" y="28.54" width="1.65" height="1.65" fill="#2b2b2b"/><rect x="90.02" y="35.60" width="1.65" height="1.65" fill="#c43f48"/><rect x="52.94" y="60.18" width="1.65" height="1.65" fill="#c43f48"/><rect x="64.22" y="16.81" width="1.65" height="1.65" fill="#c43f48"/><rect x="84.80" y="56.16" width="1.65" height="1.65" fill="#2b2b2b"/><rect x="43.19" y="41.29" width="1.65" height="1.65" fill="#2b2b2b"/><rect x="84.00" y="23.74" width="1.65" height="1.65" fill="#2b2b2b"/><rect x="65.90" y="64.73" width="1.65" height="1.65" fill="#2b2b2b"/><rect x="51.45" y="21.85" width="1.65" height="1.65" fill="#2b2b2b"/><rect x="90.77" y="44.16" width="1.65" height="1.65" fill="#2b2b2b"/><rect x="47.20" y="54.03" width="1.65" height="1.65" fill="#2b2b2b"/><rect x="72.28" y="17.34" width="1.65" height="1.65" fill="#2b2b2b"/><rect x="78.80" y="61.64" width="1.65" height="1.65" fill="#2b2b2b"/><rect x="43.88" y="33.48" width="1.65" height="1.65" fill="#c43f48"/><rect x="88.99" y="30.78" width="1.65" height="1.65" fill="#c43f48"/><rect x="57.37" y="62.97" width="1.65" height="1.65" fill="#2b2b2b"/><rect x="59.25" y="18.11" width="1.65" height="1.65" fill="#2b2b2b"/><rect x="88.39" y="52.00" width="1.65" height="1.65" fill="#2b2b2b"/><rect x="43.57" y="46.52" width="1.65" height="1.65" fill="#2b2b2b"/><rect x="80.07" y="20.57" width="1.65" height="1.65" fill="#2b2b2b"/><rect x="70.93" y="65.06" width="1.65" height="1.65" fill="#2b2b2b"/><rect x="47.76" y="25.83" width="1.65" height="1.65" fill="#2b2b2b"/><rect x="91.47" y="38.65" width="1.65" height="1.65" fill="#2b2b2b"/><rect x="49.90" y="58.62" width="1.65" height="1.65" fill="#c43f48"/><rect x="67.48" y="16.42" width="1.65" height="1.65" fill="#2b2b2b"/><rect x="83.15" y="59.15" width="1.65" height="1.65" fill="#2b2b2b"/><rect x="42.46" y="38.23" width="1.65" height="1.65" fill="#2b2b2b"/><rect x="86.60" y="25.80" width="1.65" height="1.65" fill="#2b2b2b"/><rect x="62.46" y="65.27" width="1.65" height="1.65" fill="#2b2b2b"/><rect x="53.80" y="19.64" width="1.65" height="1.65" fill="#2b2b2b"/><rect x="91.13" y="47.78" width="1.65" height="1.65" fill="#2b2b2b"/><rect x="44.70" y="51.58" width="1.65" height="1.65" fill="#2b2b2b"/><rect x="76.22" y="17.81" width="1.65" height="1.65" fill="#2b2b2b"/><rect x="76.26" y="63.50" width="1.65" height="1.65" fill="#c43f48"/><rect x="44.97" y="29.76" width="1.65" height="1.65" fill="#2b2b2b"/><rect x="91.27" y="33.63" width="1.65" height="1.65" fill="#2b2b2b"/><rect x="54.51" y="61.90" width="1.65" height="1.65" fill="#2b2b2b"/><rect x="62.25" y="16.01" width="1.65" height="1.65" fill="#2b2b2b"/><rect x="87.32" y="55.61" width="1.65" height="1.65" fill="#2b2b2b"/><rect x="42.43" y="43.36" width="1.65" height="1.65" fill="#2b2b2b"/><rect x="83.34" y="21.64" width="1.65" height="1.65" fill="#2b2b2b"/><rect x="67.82" y="65.74" width="1.65" height="1.65" fill="#2b2b2b"/><rect x="49.33" y="22.44" width="1.65" height="1.65" fill="#2b2b2b"/><rect x="92.42" y="42.47" width="1.65" height="1.65" fill="#2b2b2b"/><rect x="47.20" y="56.64" width="1.65" height="1.65" fill="#2b2b2b"/><rect x="71.00" y="15.37" width="1.65" height="1.65" fill="#2b2b2b"/><rect x="81.53" y="61.38" width="1.65" height="1.65" fill="#2b2b2b"/><rect x="42.55" y="34.84" width="1.65" height="1.65" fill="#2b2b2b"/><rect x="89.38" y="28.24" width="1.65" height="1.65" fill="#2b2b2b"/><rect x="59.03" y="64.84" width="1.65" height="1.65" fill="#2b2b2b"/><rect x="56.72" y="17.58" width="1.65" height="1.65" fill="#2b2b2b"/><rect x="90.45" y="50.78" width="1.65" height="1.65" fill="#2b2b2b"/><rect x="42.70" y="49.08" width="1.65" height="1.65" fill="#2b2b2b"/><rect x="79.30" y="18.07" width="1.65" height="1.65" fill="#2b2b2b"/><rect x="73.51" y="65.68" width="1.65" height="1.65" fill="#2b2b2b"/><rect x="45.77" y="26.34" width="1.65" height="1.65" fill="#2b2b2b"/><rect x="92.43" y="36.40" width="1.65" height="1.65" fill="#2b2b2b"/><rect x="50.90" y="60.71" width="1.65" height="1.65" fill="#c43f48"/><rect x="65.08" y="15.02" width="1.65" height="1.65" fill="#2b2b2b"/><rect x="85.80" y="58.08" width="1.65" height="1.65" fill="#2b2b2b"/><rect x="41.50" y="39.92" width="1.65" height="1.65" fill="#c43f48"/><rect x="86.64" y="23.81" width="1.65" height="1.65" fill="#2b2b2b"/><rect x="64.43" y="66.04" width="1.65" height="1.65" fill="#2b2b2b"/><rect x="51.80" y="19.80" width="1.65" height="1.65" fill="#2b2b2b"/><rect x="92.87" y="45.40" width="1.65" height="1.65" fill="#2b2b2b"/><rect x="45.29" y="54.54" width="1.65" height="1.65" fill="#2b2b2b"/><rect x="74.51" y="15.97" width="1.65" height="1.65" fill="#2b2b2b"/><rect x="78.50" y="64.28" width="1.65" height="1.65" fill="#2b2b2b"/><rect x="42.89" y="31.64" width="1.65" height="1.65" fill="#2b2b2b"/><rect x="91.70" y="30.95" width="1.65" height="1.65" fill="#2b2b2b"/><rect x="55.89" y="64.39" width="1.65" height="1.65" fill="#2b2b2b"/><rect x="59.50" y="15.53" width="1.65" height="1.65" fill="#2b2b2b"/><rect x="89.72" y="53.95" width="1.65" height="1.65" fill="#2b2b2b"/><rect x="41.79" y="45.67" width="1.65" height="1.65" fill="#2b2b2b"/><rect x="82.84" y="19.27" width="1.65" height="1.65" fill="#2b2b2b"/><rect x="70.07" y="67.04" width="1.65" height="1.65" fill="#2b2b2b"/><rect x="47.19" y="23.22" width="1.65" height="1.65" fill="#2b2b2b"/><rect x="93.46" y="39.94" width="1.65" height="1.65" fill="#c43f48"/><rect x="47.85" y="58.68" width="1.65" height="1.65" fill="#2b2b2b"/><rect x="83.84" y="61.52" width="1.65" height="1.65" fill="#2b2b2b"/><rect x="40.83" y="36.88" width="1.65" height="1.65" fill="#2b2b2b"/><rect x="88.89" y="25.99" width="1.65" height="1.65" fill="#2b2b2b"/><rect x="60.99" y="66.31" width="1.65" height="1.65" fill="#c43f48"/><rect x="44.47" y="67.88" width="1.65" height="1.65" fill="#2b2b2b"/><rect x="46.77" y="69.88" width="1.65" height="1.65" fill="#2b2b2b"/><rect x="48.88" y="71.38" width="1.65" height="1.65" fill="#2b2b2b"/><rect x="50.88" y="72.17" width="1.65" height="1.65" fill="#2b2b2b"/><rect x="52.67" y="73.97" width="1.65" height="1.65" fill="#2b2b2b"/><rect x="45.88" y="72.58" width="1.65" height="1.65" fill="#2b2b2b"/><rect x="54.38" y="75.67" width="1.65" height="1.65" fill="#2b2b2b"/><rect x="56.67" y="74.88" width="1.65" height="1.65" fill="#2b2b2b"/><rect x="58.47" y="76.88" width="1.65" height="1.65" fill="#2b2b2b"/><rect x="60.17" y="75.67" width="1.65" height="1.65" fill="#2b2b2b"/><rect x="63.07" y="75.67" width="1.65" height="1.65" fill="#2b2b2b"/><rect x="65.97" y="74.58" width="1.65" height="1.65" fill="#2b2b2b"/><rect x="46.77" y="78.88" width="1.65" height="1.65" fill="#2b2b2b"/><rect x="51.47" y="81.88" width="1.65" height="1.65" fill="#2b2b2b"/><rect x="56.67" y="78.08" width="1.65" height="1.65" fill="#2b2b2b"/><rect x="59.57" y="81.88" width="1.65" height="1.65" fill="#2b2b2b"/><rect x="64.27" y="80.38" width="1.65" height="1.65" fill="#2b2b2b"/><rect x="64.27" y="83.88" width="1.65" height="1.65" fill="#2b2b2b"/><rect x="84.08" y="72.77" width="1.65" height="1.65" fill="#2b2b2b"/><rect x="83.47" y="76.88" width="1.65" height="1.65" fill="#2b2b2b"/><rect x="84.08" y="83.88" width="1.65" height="1.65" fill="#2b2b2b"/><rect x="73.58" y="75.67" width="1.65" height="1.65" fill="#2b2b2b"/><rect x="61.57" y="87.58" width="1.65" height="1.65" fill="#2b2b2b"/><rect x="69.88" y="90.08" width="1.65" height="1.65" fill="#2b2b2b"/><rect x="55.88" y="98.67" width="1.65" height="1.65" fill="#2b2b2b"/><rect x="78.27" y="88.58" width="1.65" height="1.65" fill="#2b2b2b"/><rect x="70.17" y="71.17" width="1.65" height="1.65" fill="#2b2b2b"/><rect x="76.17" y="70.17" width="1.65" height="1.65" fill="#2b2b2b"/><rect x="81.17" y="68.17" width="1.65" height="1.65" fill="#2b2b2b"/><rect x="68.97" y="76.08" width="1.65" height="1.65" fill="#c43f48"/><rect x="68.38" y="81.17" width="1.65" height="1.65" fill="#c43f48"/><rect x="75.47" y="80.17" width="1.65" height="1.65" fill="#c43f48"/><rect x="127.98" y="39.27" width="1.65" height="1.65" fill="#c43f48"/><rect x="131.18" y="46.07" width="1.65" height="1.65" fill="#2b2b2b"/><rect x="128.28" y="51.07" width="1.65" height="1.65" fill="#2b2b2b"/><rect x="130.98" y="68.17" width="1.65" height="1.65" fill="#c43f48"/><rect x="123.58" y="76.47" width="1.65" height="1.65" fill="#2b2b2b"/><rect x="125.67" y="115.58" width="1.65" height="1.65" fill="#2b2b2b"/><rect x="114.67" y="121.77" width="1.65" height="1.65" fill="#2b2b2b"/><rect x="77.47" y="101.47" width="1.65" height="1.65" fill="#2b2b2b"/><rect x="247.76" y="43.54" width="1.55" height="1.55" fill="#2b2b2b"/><rect x="245.81" y="42.15" width="1.55" height="1.55" fill="#2b2b2b"/><rect x="249.36" y="41.90" width="1.55" height="1.55" fill="#2b2b2b"/><rect x="246.57" y="44.97" width="1.55" height="1.55" fill="#2b2b2b"/><rect x="247.05" y="39.12" width="1.55" height="1.55" fill="#2b2b2b"/><rect x="251.16" y="44.29" width="1.55" height="1.55" fill="#2b2b2b"/><rect x="244.18" y="43.33" width="1.55" height="1.55" fill="#c43f48"/><rect x="250.43" y="38.57" width="1.55" height="1.55" fill="#2b2b2b"/><rect x="248.84" y="46.64" width="1.55" height="1.55" fill="#2b2b2b"/><rect x="244.88" y="38.88" width="1.55" height="1.55" fill="#2b2b2b"/><rect x="253.34" y="42.34" width="1.55" height="1.55" fill="#2b2b2b"/><rect x="244.73" y="46.15" width="1.55" height="1.55" fill="#2b2b2b"/><rect x="248.65" y="36.12" width="1.55" height="1.55" fill="#2b2b2b"/><rect x="251.85" y="46.60" width="1.55" height="1.55" fill="#2b2b2b"/><rect x="242.82" y="41.21" width="1.55" height="1.55" fill="#2b2b2b"/><rect x="253.72" y="38.69" width="1.55" height="1.55" fill="#2b2b2b"/><rect x="247.06" y="48.47" width="1.55" height="1.55" fill="#c43f48"/><rect x="245.67" y="35.74" width="1.55" height="1.55" fill="#2b2b2b"/><rect x="254.96" y="44.20" width="1.55" height="1.55" fill="#2b2b2b"/><rect x="242.33" y="44.98" width="1.55" height="1.55" fill="#2b2b2b"/><rect x="251.60" y="35.11" width="1.55" height="1.55" fill="#2b2b2b"/><rect x="251.48" y="49.16" width="1.55" height="1.55" fill="#2b2b2b"/><rect x="242.51" y="38.20" width="1.55" height="1.55" fill="#2b2b2b"/><rect x="256.35" y="40.21" width="1.55" height="1.55" fill="#2b2b2b"/><rect x="244.69" y="48.72" width="1.55" height="1.55" fill="#2b2b2b"/><rect x="247.66" y="33.59" width="1.55" height="1.55" fill="#2b2b2b"/><rect x="255.94" y="47.48" width="1.55" height="1.55" fill="#c43f48"/><rect x="240.87" y="42.42" width="1.55" height="1.55" fill="#2b2b2b"/><rect x="254.92" y="35.36" width="1.55" height="1.55" fill="#2b2b2b"/><rect x="249.31" y="51.03" width="1.55" height="1.55" fill="#2b2b2b"/><rect x="243.61" y="34.79" width="1.55" height="1.55" fill="#2b2b2b"/><rect x="258.74" y="42.94" width="1.55" height="1.55" fill="#2b2b2b"/><rect x="241.99" y="47.90" width="1.55" height="1.55" fill="#2b2b2b"/><rect x="251.04" y="32.09" width="1.55" height="1.55" fill="#2b2b2b"/><rect x="254.55" y="50.22" width="1.55" height="1.55" fill="#2b2b2b"/><rect x="240.08" y="39.16" width="1.55" height="1.55" fill="#2b2b2b"/><rect x="258.16" y="37.13" width="1.55" height="1.55" fill="#2b2b2b"/><rect x="246.45" y="51.41" width="1.55" height="1.55" fill="#2b2b2b"/><rect x="245.85" y="31.86" width="1.55" height="1.55" fill="#2b2b2b"/><rect x="259.03" y="46.55" width="1.55" height="1.55" fill="#2b2b2b"/><rect x="240.08" y="44.68" width="1.55" height="1.55" fill="#2b2b2b"/><rect x="255.16" y="32.01" width="1.55" height="1.55" fill="#2b2b2b"/><rect x="251.80" y="53.00" width="1.55" height="1.55" fill="#2b2b2b"/><rect x="241.36" y="35.10" width="1.55" height="1.55" fill="#2b2b2b"/><rect x="260.55" y="40.54" width="1.55" height="1.55" fill="#2b2b2b"/><rect x="242.92" y="50.51" width="1.55" height="1.55" fill="#c43f48"/><rect x="249.88" y="29.75" width="1.55" height="1.55" fill="#2b2b2b"/><rect x="257.82" y="50.03" width="1.55" height="1.55" fill="#2b2b2b"/><rect x="238.51" y="40.63" width="1.55" height="1.55" fill="#c43f48"/><rect x="259.06" y="34.01" width="1.55" height="1.55" fill="#2b2b2b"/><rect x="248.59" y="54.11" width="1.55" height="1.55" fill="#2b2b2b"/><rect x="243.71" y="31.04" width="1.55" height="1.55" fill="#2b2b2b"/><rect x="261.94" y="44.49" width="1.55" height="1.55" fill="#2b2b2b"/><rect x="239.88" y="47.82" width="1.55" height="1.55" fill="#2b2b2b"/><rect x="254.05" y="29.35" width="1.55" height="1.55" fill="#2b2b2b"/><rect x="255.66" y="53.34" width="1.55" height="1.55" fill="#2b2b2b"/><rect x="239.17" y="35.98" width="1.55" height="1.55" fill="#2b2b2b"/><rect x="262.17" y="37.02" width="1.55" height="1.55" fill="#c43f48"/><rect x="244.53" y="53.63" width="1.55" height="1.55" fill="#2b2b2b"/><rect x="247.51" y="28.21" width="1.55" height="1.55" fill="#c43f48"/><rect x="261.53" y="48.97" width="1.55" height="1.55" fill="#2b2b2b"/><rect x="237.47" y="43.90" width="1.55" height="1.55" fill="#2b2b2b"/><rect x="258.85" y="30.66" width="1.55" height="1.55" fill="#c43f48"/><rect x="251.61" y="55.82" width="1.55" height="1.55" fill="#2b2b2b"/><rect x="240.87" y="31.87" width="1.55" height="1.55" fill="#2b2b2b"/><rect x="264.29" y="41.92" width="1.55" height="1.55" fill="#2b2b2b"/><rect x="240.41" y="51.15" width="1.55" height="1.55" fill="#c43f48"/><rect x="252.19" y="26.82" width="1.55" height="1.55" fill="#c43f48"/><rect x="258.79" y="53.32" width="1.55" height="1.55" fill="#2b2b2b"/><rect x="236.78" y="38.82" width="1.55" height="1.55" fill="#2b2b2b"/><rect x="262.59" y="33.33" width="1.55" height="1.55" fill="#2b2b2b"/><rect x="246.64" y="56.12" width="1.55" height="1.55" fill="#2b2b2b"/><rect x="244.38" y="27.59" width="1.55" height="1.55" fill="#2b2b2b"/><rect x="264.03" y="46.60" width="1.55" height="1.55" fill="#2b2b2b"/><rect x="237.48" y="47.07" width="1.55" height="1.55" fill="#2b2b2b"/><rect x="257.47" y="27.58" width="1.55" height="1.55" fill="#2b2b2b"/><rect x="254.84" y="56.39" width="1.55" height="1.55" fill="#2b2b2b"/><rect x="238.18" y="33.40" width="1.55" height="1.55" fill="#2b2b2b"/><rect x="265.83" y="38.45" width="1.55" height="1.55" fill="#2b2b2b"/><rect x="241.88" y="54.43" width="1.55" height="1.55" fill="#2b2b2b"/><rect x="249.61" y="25.62" width="1.55" height="1.55" fill="#2b2b2b"/><rect x="262.32" y="51.78" width="1.55" height="1.55" fill="#2b2b2b"/><rect x="235.50" y="41.41" width="1.55" height="1.55" fill="#c43f48"/><rect x="262.47" y="30.13" width="1.55" height="1.55" fill="#2b2b2b"/><rect x="250.22" y="57.95" width="1.55" height="1.55" fill="#2b2b2b"/><rect x="241.42" y="28.21" width="1.55" height="1.55" fill="#2b2b2b"/><rect x="266.53" y="43.56" width="1.55" height="1.55" fill="#2b2b2b"/><rect x="238.17" y="50.44" width="1.55" height="1.55" fill="#2b2b2b"/><rect x="254.90" y="24.77" width="1.55" height="1.55" fill="#2b2b2b"/><rect x="258.70" y="56.03" width="1.55" height="1.55" fill="#2b2b2b"/><rect x="235.83" y="35.87" width="1.55" height="1.55" fill="#2b2b2b"/><rect x="266.10" y="34.18" width="1.55" height="1.55" fill="#2b2b2b"/><rect x="245.01" y="57.10" width="1.55" height="1.55" fill="#2b2b2b"/><rect x="246.26" y="24.77" width="1.55" height="1.55" fill="#2b2b2b"/><rect x="265.59" y="49.60" width="1.55" height="1.55" fill="#c43f48"/><rect x="235.17" y="45.56" width="1.55" height="1.55" fill="#2b2b2b"/><rect x="260.62" y="26.57" width="1.55" height="1.55" fill="#2b2b2b"/><rect x="254.00" y="58.66" width="1.55" height="1.55" fill="#2b2b2b"/><rect x="238.46" y="29.69" width="1.55" height="1.55" fill="#2b2b2b"/><rect x="268.65" y="39.81" width="1.55" height="1.55" fill="#c43f48"/><rect x="239.34" y="54.09" width="1.55" height="1.55" fill="#2b2b2b"/><rect x="252.06" y="23.21" width="1.55" height="1.55" fill="#2b2b2b"/><rect x="262.63" y="54.96" width="1.55" height="1.55" fill="#2b2b2b"/><rect x="234.25" y="39.30" width="1.55" height="1.55" fill="#2b2b2b"/><rect x="265.50" y="30.20" width="1.55" height="1.55" fill="#2b2b2b"/><rect x="248.04" y="59.61" width="1.55" height="1.55" fill="#2b2b2b"/><rect x="242.32" y="25.36" width="1.55" height="1.55" fill="#2b2b2b"/><rect x="268.55" y="46.26" width="1.55" height="1.55" fill="#2b2b2b"/><rect x="235.73" y="49.46" width="1.55" height="1.55" fill="#c43f48"/><rect x="257.97" y="23.47" width="1.55" height="1.55" fill="#2b2b2b"/><rect x="257.94" y="59.11" width="1.55" height="1.55" fill="#c43f48"/><rect x="235.58" y="32.73" width="1.55" height="1.55" fill="#2b2b2b"/><rect x="269.30" y="35.65" width="1.55" height="1.55" fill="#2b2b2b"/><rect x="242.15" y="57.59" width="1.55" height="1.55" fill="#2b2b2b"/><rect x="248.46" y="21.70" width="1.55" height="1.55" fill="#2b2b2b"/><rect x="266.89" y="52.42" width="1.55" height="1.55" fill="#2b2b2b"/><rect x="233.15" y="43.01" width="1.55" height="1.55" fill="#2b2b2b"/><rect x="264.41" y="26.23" width="1.55" height="1.55" fill="#2b2b2b"/><rect x="252.11" y="61.15" width="1.55" height="1.55" fill="#2b2b2b"/><rect x="238.72" y="26.56" width="1.55" height="1.55" fill="#2b2b2b"/><rect x="270.76" y="42.58" width="1.55" height="1.55" fill="#2b2b2b"/><rect x="237.17" y="53.68" width="1.55" height="1.55" fill="#2b2b2b"/><rect x="254.79" y="20.94" width="1.55" height="1.55" fill="#2b2b2b"/><rect x="262.31" y="58.18" width="1.55" height="1.55" fill="#2b2b2b"/><rect x="233.35" y="36.23" width="1.55" height="1.55" fill="#2b2b2b"/><rect x="268.76" y="31.19" width="1.55" height="1.55" fill="#2b2b2b"/><rect x="245.81" y="60.53" width="1.55" height="1.55" fill="#2b2b2b"/><rect x="243.99" y="22.01" width="1.55" height="1.55" fill="#2b2b2b"/><rect x="270.14" y="49.30" width="1.55" height="1.55" fill="#2b2b2b"/><rect x="233.17" y="47.48" width="1.55" height="1.55" fill="#2b2b2b"/><rect x="261.76" y="22.87" width="1.55" height="1.55" fill="#2b2b2b"/><rect x="256.47" y="61.24" width="1.55" height="1.55" fill="#2b2b2b"/><rect x="235.40" y="29.04" width="1.55" height="1.55" fill="#2b2b2b"/><rect x="271.90" y="37.65" width="1.55" height="1.55" fill="#2b2b2b"/><rect x="239.33" y="57.32" width="1.55" height="1.55" fill="#2b2b2b"/><rect x="251.20" y="19.74" width="1.55" height="1.55" fill="#2b2b2b"/><rect x="266.45" y="56.17" width="1.55" height="1.55" fill="#2b2b2b"/><rect x="231.57" y="40.28" width="1.55" height="1.55" fill="#2b2b2b"/><rect x="267.89" y="26.95" width="1.55" height="1.55" fill="#2b2b2b"/><rect x="249.96" y="62.49" width="1.55" height="1.55" fill="#2b2b2b"/><rect x="239.95" y="23.34" width="1.55" height="1.55" fill="#2b2b2b"/><rect x="272.22" y="45.17" width="1.55" height="1.55" fill="#2b2b2b"/><rect x="234.35" y="51.93" width="1.55" height="1.55" fill="#2b2b2b"/><rect x="258.14" y="19.94" width="1.55" height="1.55" fill="#2b2b2b"/><rect x="261.49" y="60.86" width="1.55" height="1.55" fill="#2b2b2b"/><rect x="232.84" y="32.68" width="1.55" height="1.55" fill="#2b2b2b"/><rect x="271.76" y="33.02" width="1.55" height="1.55" fill="#2b2b2b"/><rect x="242.75" y="61.08" width="1.55" height="1.55" fill="#2b2b2b"/><rect x="246.77" y="19.21" width="1.55" height="1.55" fill="#2b2b2b"/><rect x="270.50" y="52.90" width="1.55" height="1.55" fill="#2b2b2b"/><rect x="231.29" y="44.97" width="1.55" height="1.55" fill="#2b2b2b"/><rect x="265.31" y="22.87" width="1.55" height="1.55" fill="#2b2b2b"/><rect x="254.70" y="63.71" width="1.55" height="1.55" fill="#2b2b2b"/><rect x="236.46" y="25.74" width="1.55" height="1.55" fill="#2b2b2b"/><rect x="274.17" y="40.53" width="1.55" height="1.55" fill="#2b2b2b"/><rect x="236.44" y="56.76" width="1.55" height="1.55" fill="#2b2b2b"/><rect x="253.79" y="17.72" width="1.55" height="1.55" fill="#2b2b2b"/><rect x="266.17" y="59.23" width="1.55" height="1.55" fill="#2b2b2b"/><rect x="230.81" y="36.95" width="1.55" height="1.55" fill="#2b2b2b"/><rect x="270.87" y="27.99" width="1.55" height="1.55" fill="#2b2b2b"/><rect x="247.08" y="63.54" width="1.55" height="1.55" fill="#c43f48"/><rect x="242.07" y="20.34" width="1.55" height="1.55" fill="#2b2b2b"/><rect x="273.35" y="48.74" width="1.55" height="1.55" fill="#2b2b2b"/><rect x="232.11" y="50.11" width="1.55" height="1.55" fill="#2b2b2b"/><rect x="261.75" y="19.42" width="1.55" height="1.55" fill="#2b2b2b"/><rect x="259.29" y="63.54" width="1.55" height="1.55" fill="#2b2b2b"/><rect x="232.63" y="29.26" width="1.55" height="1.55" fill="#2b2b2b"/><rect x="274.90" y="35.35" width="1.55" height="1.55" fill="#2b2b2b"/><rect x="239.49" y="60.77" width="1.55" height="1.55" fill="#2b2b2b"/><rect x="249.36" y="16.99" width="1.55" height="1.55" fill="#2b2b2b"/><rect x="270.30" y="56.28" width="1.55" height="1.55" fill="#2b2b2b"/><rect x="229.86" y="42.15" width="1.55" height="1.55" fill="#2b2b2b"/><rect x="268.67" y="23.60" width="1.55" height="1.55" fill="#2b2b2b"/><rect x="251.69" y="65.40" width="1.55" height="1.55" fill="#2b2b2b"/><rect x="237.46" y="22.29" width="1.55" height="1.55" fill="#2b2b2b"/><rect x="275.51" y="44.03" width="1.55" height="1.55" fill="#2b2b2b"/><rect x="233.59" y="54.92" width="1.55" height="1.55" fill="#2b2b2b"/><rect x="257.35" y="16.44" width="1.55" height="1.55" fill="#2b2b2b"/><rect x="264.33" y="62.16" width="1.55" height="1.55" fill="#2b2b2b"/><rect x="230.09" y="33.63" width="1.55" height="1.55" fill="#2b2b2b"/><rect x="273.91" y="29.82" width="1.55" height="1.55" fill="#2b2b2b"/><rect x="243.68" y="64.22" width="1.55" height="1.55" fill="#2b2b2b"/><rect x="244.62" y="17.19" width="1.55" height="1.55" fill="#2b2b2b"/><rect x="273.80" y="52.40" width="1.55" height="1.55" fill="#2b2b2b"/><rect x="229.62" y="47.38" width="1.55" height="1.55" fill="#2b2b2b"/><rect x="265.21" y="19.35" width="1.55" height="1.55" fill="#2b2b2b"/><rect x="257.32" y="65.91" width="1.55" height="1.55" fill="#2b2b2b"/><rect x="233.45" y="25.40" width="1.55" height="1.55" fill="#2b2b2b"/><rect x="276.68" y="38.56" width="1.55" height="1.55" fill="#2b2b2b"/><rect x="236.44" y="59.95" width="1.55" height="1.55" fill="#2b2b2b"/><rect x="252.75" y="15.13" width="1.55" height="1.55" fill="#2b2b2b"/><rect x="269.40" y="59.54" width="1.55" height="1.55" fill="#2b2b2b"/><rect x="228.41" y="38.47" width="1.55" height="1.55" fill="#2b2b2b"/><rect x="272.34" y="24.64" width="1.55" height="1.55" fill="#2b2b2b"/><rect x="248.93" y="66.33" width="1.55" height="1.55" fill="#2b2b2b"/><rect x="239.30" y="18.63" width="1.55" height="1.55" fill="#2b2b2b"/><rect x="276.73" y="47.13" width="1.55" height="1.55" fill="#c43f48"/><rect x="230.58" y="53.19" width="1.55" height="1.55" fill="#2b2b2b"/><rect x="261.03" y="15.71" width="1.55" height="1.55" fill="#2b2b2b"/><rect x="262.43" y="65.09" width="1.55" height="1.55" fill="#2b2b2b"/><rect x="236.08" y="73.77" width="1.65" height="1.65" fill="#2b2b2b"/><rect x="240.28" y="73.77" width="1.65" height="1.65" fill="#2b2b2b"/><rect x="245.48" y="72.77" width="1.65" height="1.65" fill="#2b2b2b"/><rect x="247.58" y="76.97" width="1.65" height="1.65" fill="#2b2b2b"/><rect x="252.78" y="71.67" width="1.65" height="1.65" fill="#2b2b2b"/><rect x="255.98" y="74.88" width="1.65" height="1.65" fill="#2b2b2b"/><rect x="257.98" y="71.67" width="1.65" height="1.65" fill="#2b2b2b"/><rect x="262.18" y="73.77" width="1.65" height="1.65" fill="#2b2b2b"/><rect x="240.68" y="82.58" width="1.65" height="1.65" fill="#2b2b2b"/><rect x="255.18" y="87.67" width="1.65" height="1.65" fill="#2b2b2b"/><rect x="267.48" y="86.67" width="1.65" height="1.65" fill="#2b2b2b"/><rect x="259.28" y="101.88" width="1.65" height="1.65" fill="#2b2b2b"/><rect x="311.38" y="78.67" width="1.65" height="1.65" fill="#2b2b2b"/><rect x="311.98" y="121.47" width="1.65" height="1.65" fill="#2b2b2b"/><rect x="318.78" y="51.07" width="1.65" height="1.65" fill="#2b2b2b"/><rect x="316.57" y="38.97" width="1.65" height="1.65" fill="#c43f48"/><rect x="320.18" y="68.17" width="1.65" height="1.65" fill="#c43f48"/><rect x="232.68" y="61.88" width="1.65" height="1.65" fill="#c43f48"/><rect x="454.88" y="14.88" width="1.65" height="1.65" fill="#2b2b2b"/><rect x="463.98" y="14.88" width="1.65" height="1.65" fill="#2b2b2b"/><rect x="447.38" y="18.98" width="1.65" height="1.65" fill="#2b2b2b"/><rect x="471.28" y="19.28" width="1.65" height="1.65" fill="#2b2b2b"/><rect x="464.18" y="21.28" width="1.65" height="1.65" fill="#2b2b2b"/><rect x="441.68" y="22.38" width="1.65" height="1.65" fill="#2b2b2b"/><rect x="479.48" y="22.68" width="1.65" height="1.65" fill="#2b2b2b"/><rect x="433.48" y="24.18" width="1.65" height="1.65" fill="#2b2b2b"/><rect x="450.78" y="24.18" width="1.65" height="1.65" fill="#2b2b2b"/><rect x="483.98" y="27.18" width="1.65" height="1.65" fill="#2b2b2b"/><rect x="441.88" y="29.28" width="1.65" height="1.65" fill="#2b2b2b"/><rect x="448.48" y="30.18" width="1.65" height="1.65" fill="#2b2b2b"/><rect x="466.18" y="31.57" width="1.65" height="1.65" fill="#2b2b2b"/><rect x="474.98" y="31.68" width="1.65" height="1.65" fill="#2b2b2b"/><rect x="490.38" y="29.68" width="1.65" height="1.65" fill="#2b2b2b"/><rect x="434.78" y="32.27" width="1.65" height="1.65" fill="#2b2b2b"/><rect x="430.57" y="36.97" width="1.65" height="1.65" fill="#2b2b2b"/><rect x="441.28" y="36.07" width="1.65" height="1.65" fill="#2b2b2b"/><rect x="484.88" y="35.38" width="1.65" height="1.65" fill="#2b2b2b"/><rect x="494.18" y="36.97" width="1.65" height="1.65" fill="#2b2b2b"/><rect x="450.18" y="50.27" width="1.65" height="1.65" fill="#2b2b2b"/><rect x="456.18" y="49.47" width="1.65" height="1.65" fill="#2b2b2b"/><rect x="466.38" y="49.47" width="1.65" height="1.65" fill="#2b2b2b"/><rect x="473.18" y="52.17" width="1.65" height="1.65" fill="#2b2b2b"/><rect x="463.48" y="53.38" width="1.65" height="1.65" fill="#2b2b2b"/><rect x="467.98" y="53.07" width="1.65" height="1.65" fill="#2b2b2b"/><rect x="440.98" y="55.38" width="1.65" height="1.65" fill="#2b2b2b"/><rect x="446.88" y="54.57" width="1.65" height="1.65" fill="#2b2b2b"/><rect x="454.38" y="56.57" width="1.65" height="1.65" fill="#2b2b2b"/><rect x="457.57" y="56.97" width="1.65" height="1.65" fill="#2b2b2b"/><rect x="466.38" y="56.57" width="1.65" height="1.65" fill="#2b2b2b"/><rect x="470.78" y="55.97" width="1.65" height="1.65" fill="#2b2b2b"/><rect x="474.68" y="55.38" width="1.65" height="1.65" fill="#2b2b2b"/><rect x="484.98" y="55.97" width="1.65" height="1.65" fill="#2b2b2b"/><rect x="437.18" y="59.88" width="1.65" height="1.65" fill="#2b2b2b"/><rect x="444.78" y="59.57" width="1.65" height="1.65" fill="#2b2b2b"/><rect x="451.68" y="59.27" width="1.65" height="1.65" fill="#2b2b2b"/><rect x="455.18" y="60.47" width="1.65" height="1.65" fill="#2b2b2b"/><rect x="460.18" y="59.88" width="1.65" height="1.65" fill="#2b2b2b"/><rect x="468.18" y="59.27" width="1.65" height="1.65" fill="#2b2b2b"/><rect x="473.48" y="58.97" width="1.65" height="1.65" fill="#2b2b2b"/><rect x="479.07" y="59.57" width="1.65" height="1.65" fill="#2b2b2b"/><rect x="450.18" y="62.47" width="1.65" height="1.65" fill="#2b2b2b"/><rect x="453.98" y="63.27" width="1.65" height="1.65" fill="#2b2b2b"/><rect x="457.78" y="62.88" width="1.65" height="1.65" fill="#2b2b2b"/><rect x="462.07" y="62.88" width="1.65" height="1.65" fill="#2b2b2b"/><rect x="471.38" y="61.67" width="1.65" height="1.65" fill="#2b2b2b"/><rect x="484.98" y="62.47" width="1.65" height="1.65" fill="#2b2b2b"/><rect x="432.68" y="65.17" width="1.65" height="1.65" fill="#2b2b2b"/><rect x="440.07" y="65.17" width="1.65" height="1.65" fill="#2b2b2b"/><rect x="450.18" y="65.67" width="1.65" height="1.65" fill="#2b2b2b"/><rect x="456.18" y="66.88" width="1.65" height="1.65" fill="#2b2b2b"/><rect x="459.88" y="66.08" width="1.65" height="1.65" fill="#2b2b2b"/><rect x="463.68" y="65.67" width="1.65" height="1.65" fill="#2b2b2b"/><rect x="470.57" y="66.97" width="1.65" height="1.65" fill="#2b2b2b"/><rect x="476.18" y="67.77" width="1.65" height="1.65" fill="#2b2b2b"/><rect x="480.88" y="65.17" width="1.65" height="1.65" fill="#2b2b2b"/><rect x="443.98" y="68.67" width="1.65" height="1.65" fill="#2b2b2b"/><rect x="452.78" y="68.97" width="1.65" height="1.65" fill="#2b2b2b"/><rect x="458.78" y="69.58" width="1.65" height="1.65" fill="#2b2b2b"/><rect x="462.28" y="68.77" width="1.65" height="1.65" fill="#2b2b2b"/><rect x="488.28" y="69.58" width="1.65" height="1.65" fill="#2b2b2b"/><rect x="455.18" y="70.67" width="1.65" height="1.65" fill="#2b2b2b"/><rect x="433.28" y="72.17" width="1.65" height="1.65" fill="#2b2b2b"/><rect x="440.68" y="72.47" width="1.65" height="1.65" fill="#2b2b2b"/><rect x="469.38" y="71.88" width="1.65" height="1.65" fill="#2b2b2b"/><rect x="482.38" y="71.67" width="1.65" height="1.65" fill="#2b2b2b"/><rect x="448.07" y="74.88" width="1.65" height="1.65" fill="#2b2b2b"/><rect x="463.68" y="74.47" width="1.65" height="1.65" fill="#2b2b2b"/><rect x="475.28" y="74.08" width="1.65" height="1.65" fill="#2b2b2b"/><rect x="469.98" y="76.38" width="1.65" height="1.65" fill="#2b2b2b"/><rect x="441.98" y="78.38" width="1.65" height="1.65" fill="#2b2b2b"/><rect x="451.07" y="78.97" width="1.65" height="1.65" fill="#2b2b2b"/><rect x="457.28" y="77.58" width="1.65" height="1.65" fill="#2b2b2b"/><rect x="479.78" y="77.58" width="1.65" height="1.65" fill="#2b2b2b"/><rect x="461.07" y="80.77" width="1.65" height="1.65" fill="#2b2b2b"/><rect x="467.28" y="80.17" width="1.65" height="1.65" fill="#2b2b2b"/><rect x="473.48" y="81.58" width="1.65" height="1.65" fill="#2b2b2b"/><rect x="482.38" y="82.27" width="1.65" height="1.65" fill="#2b2b2b"/><rect x="445.48" y="82.88" width="1.65" height="1.65" fill="#2b2b2b"/><rect x="453.78" y="83.17" width="1.65" height="1.65" fill="#2b2b2b"/><rect x="439.57" y="84.67" width="1.65" height="1.65" fill="#2b2b2b"/><rect x="463.68" y="85.17" width="1.65" height="1.65" fill="#2b2b2b"/><rect x="447.18" y="88.47" width="1.65" height="1.65" fill="#2b2b2b"/><rect x="457.57" y="87.27" width="1.65" height="1.65" fill="#2b2b2b"/><rect x="470.28" y="86.67" width="1.65" height="1.65" fill="#2b2b2b"/><rect x="477.07" y="87.88" width="1.65" height="1.65" fill="#2b2b2b"/><rect x="453.38" y="90.58" width="1.65" height="1.65" fill="#2b2b2b"/><rect x="460.88" y="91.77" width="1.65" height="1.65" fill="#2b2b2b"/><rect x="467.57" y="91.08" width="1.65" height="1.65" fill="#2b2b2b"/><rect x="452.28" y="102.47" width="1.65" height="1.65" fill="#2b2b2b"/><rect x="464.57" y="122.27" width="1.65" height="1.65" fill="#2b2b2b"/><rect x="456.68" y="21.28" width="1.65" height="1.65" fill="#c43f48"/><rect x="460.98" y="26.88" width="1.65" height="1.65" fill="#c43f48"/><rect x="470.28" y="25.78" width="1.65" height="1.65" fill="#c43f48"/><rect x="456.28" y="31.68" width="1.65" height="1.65" fill="#c43f48"/><rect x="462.68" y="50.07" width="1.65" height="1.65" fill="#c43f48"/><rect x="470.18" y="49.88" width="1.65" height="1.65" fill="#c43f48"/><rect x="433.28" y="79.58" width="1.65" height="1.65" fill="#c43f48"/><rect x="440.18" y="96.17" width="1.65" height="1.65" fill="#c43f48"/><rect x="6" y="13.7" width="163.4" height="111.0" fill="none" stroke="#61769a" stroke-width="1.65"/><rect x="193.7" y="13.7" width="163.60000000000002" height="111.0" fill="none" stroke="#61769a" stroke-width="1.65"/><rect x="381.6" y="13.9" width="163.19999999999993" height="111.39999999999999" fill="none" stroke="#61769a" stroke-width="1.65"/><g fill="none" stroke="#4a6ea8" stroke-width="1.4"><circle cx="76.1" cy="81.1" r="3.7"/><polyline points="76,84.8 76,100.8 137,100.8"/><circle cx="233.6" cy="62.8" r="3.7"/><polyline points="233.8,66.5 233.8,81.2 295,81.2"/></g><rect x="6.1" y="146" width="538.9" height="184.89999999999998" fill="#afafaf"/><g stroke="#a9a9a9" stroke-width="0.8"><line x1="7" y1="191.6" x2="544" y2="191.6"/><line x1="7" y1="237.8" x2="544" y2="237.8"/><line x1="7" y1="284" x2="544" y2="284"/></g><g stroke="#222" stroke-width="1.2" fill="none"><line x1="7" y1="149.2" x2="544" y2="247.5" stroke-opacity="0.30" stroke-width="1.1"/><line x1="7" y1="149.9" x2="544" y2="283.0" stroke-opacity="0.30" stroke-width="1.1"/><line x1="7" y1="152.6" x2="544" y2="291.0" stroke-opacity="0.30" stroke-width="1.1"/><line x1="7" y1="172.4" x2="544" y2="150.9" stroke-opacity="0.23" stroke-width="1.1"/><line x1="7" y1="293.5" x2="544" y2="148.2" stroke-opacity="0.27" stroke-width="1.1"/><line x1="7" y1="301.0" x2="544" y2="185.0" stroke-opacity="0.26" stroke-width="1.1"/><line x1="7" y1="305.0" x2="544" y2="192.5" stroke-opacity="0.26" stroke-width="1.1"/><line x1="7" y1="300.0" x2="544" y2="209.0" stroke-opacity="0.23" stroke-width="1.1"/><line x1="7" y1="307.0" x2="544" y2="214.0" stroke-opacity="0.23" stroke-width="1.1"/><line x1="7" y1="311.5" x2="544" y2="232.0" stroke-opacity="0.23" stroke-width="1.1"/><line x1="7" y1="310.2" x2="544" y2="241.5" stroke-opacity="0.23" stroke-width="1.1"/><line x1="7" y1="296.0" x2="544" y2="231.4" stroke-opacity="0.22" stroke-width="1.1"/><line x1="7" y1="326.0" x2="544" y2="235.6" stroke-opacity="0.23" stroke-width="1.1"/><line x1="7" y1="312.0" x2="544" y2="247.0" stroke-opacity="0.22" stroke-width="1.1"/><line x1="7" y1="315.0" x2="544" y2="251.3" stroke-opacity="0.22" stroke-width="1.1"/><line x1="7" y1="318.0" x2="544" y2="256.4" stroke-opacity="0.22" stroke-width="1.1"/><line x1="7" y1="308.0" x2="544" y2="259.7" stroke-opacity="0.22" stroke-width="1.1"/><line x1="7" y1="314.0" x2="544" y2="264.6" stroke-opacity="0.22" stroke-width="1.1"/><line x1="7" y1="293.0" x2="544" y2="289.0" stroke-opacity="0.23" stroke-width="1.1"/><line x1="7" y1="299.0" x2="544" y2="296.8" stroke-opacity="0.20" stroke-width="1.1"/><line x1="7" y1="309.7" x2="544" y2="279.1" stroke-opacity="0.11"/><line x1="7" y1="315.3" x2="544" y2="281.5" stroke-opacity="0.11"/><line x1="7" y1="314.4" x2="544" y2="286.3" stroke-opacity="0.06"/><line x1="7" y1="312.5" x2="544" y2="278.3" stroke-opacity="0.06"/><line x1="7" y1="312.6" x2="544" y2="284.4" stroke-opacity="0.09"/><line x1="7" y1="305.6" x2="544" y2="280.2" stroke-opacity="0.09"/><line x1="7" y1="305.9" x2="544" y2="274.3" stroke-opacity="0.06"/><line x1="7" y1="313.8" x2="544" y2="281.8" stroke-opacity="0.11"/><line x1="7" y1="306.2" x2="544" y2="273.3" stroke-opacity="0.15"/><line x1="7" y1="312.6" x2="544" y2="281.7" stroke-opacity="0.06"/><line x1="7" y1="306.5" x2="544" y2="282.3" stroke-opacity="0.06"/><line x1="7" y1="311.0" x2="544" y2="284.6" stroke-opacity="0.15"/><line x1="7" y1="306.1" x2="544" y2="274.7" stroke-opacity="0.09"/><line x1="7" y1="315.8" x2="544" y2="280.8" stroke-opacity="0.15"/><line x1="7" y1="313.7" x2="544" y2="280.2" stroke-opacity="0.06"/><line x1="7" y1="305.4" x2="544" y2="281.6" stroke-opacity="0.06"/><line x1="7" y1="302.5" x2="544" y2="276.5" stroke-opacity="0.06"/><line x1="7" y1="310.7" x2="544" y2="268.3" stroke-opacity="0.09"/><line x1="7" y1="303.7" x2="544" y2="275.5" stroke-opacity="0.11"/><line x1="7" y1="308.5" x2="544" y2="277.9" stroke-opacity="0.09"/><line x1="7" y1="307.0" x2="544" y2="279.8" stroke-opacity="0.11"/><line x1="7" y1="307.9" x2="544" y2="281.0" stroke-opacity="0.15"/><line x1="7" y1="308.7" x2="544" y2="282.5" stroke-opacity="0.09"/><line x1="7" y1="313.4" x2="544" y2="280.4" stroke-opacity="0.11"/><line x1="7" y1="306.1" x2="544" y2="285.8" stroke-opacity="0.06"/><line x1="7" y1="314.2" x2="544" y2="290.7" stroke-opacity="0.15"/><line x1="7" y1="310.5" x2="544" y2="281.7" stroke-opacity="0.09"/><line x1="7" y1="315.5" x2="544" y2="284.5" stroke-opacity="0.06"/><line x1="7" y1="315.7" x2="544" y2="280.0" stroke-opacity="0.06"/><line x1="7" y1="306.4" x2="544" y2="276.0" stroke-opacity="0.15"/><line x1="7" y1="312.0" x2="544" y2="278.8" stroke-opacity="0.15"/><line x1="7" y1="315.5" x2="544" y2="277.5" stroke-opacity="0.06"/><line x1="7" y1="309.0" x2="544" y2="281.5" stroke-opacity="0.11"/><line x1="7" y1="315.7" x2="544" y2="279.9" stroke-opacity="0.06"/><line x1="7" y1="307.6" x2="544" y2="274.8" stroke-opacity="0.06"/><line x1="7" y1="310.6" x2="544" y2="275.0" stroke-opacity="0.06"/><line x1="7" y1="314.7" x2="544" y2="282.5" stroke-opacity="0.06"/><line x1="7" y1="302.8" x2="544" y2="274.2" stroke-opacity="0.09"/><line x1="7" y1="310.0" x2="544" y2="285.5" stroke-opacity="0.09"/><line x1="7" y1="316.9" x2="544" y2="287.8" stroke-opacity="0.15"/><line x1="7" y1="303.2" x2="544" y2="284.3" stroke-opacity="0.06"/><line x1="7" y1="305.6" x2="544" y2="285.7" stroke-opacity="0.15"/><line x1="7" y1="303.4" x2="544" y2="277.9" stroke-opacity="0.09"/><line x1="7" y1="316.9" x2="544" y2="290.7" stroke-opacity="0.09"/><line x1="7" y1="313.4" x2="544" y2="279.4" stroke-opacity="0.15"/><line x1="7" y1="313.8" x2="544" y2="278.8" stroke-opacity="0.06"/><line x1="7" y1="313.1" x2="544" y2="288.4" stroke-opacity="0.06"/><line x1="7" y1="308.5" x2="544" y2="281.1" stroke-opacity="0.09"/><line x1="7" y1="318.2" x2="544" y2="282.7" stroke-opacity="0.15"/><line x1="7" y1="309.5" x2="544" y2="279.3" stroke-opacity="0.06"/><line x1="7" y1="308.7" x2="544" y2="277.8" stroke-opacity="0.15"/><line x1="7" y1="314.8" x2="544" y2="281.0" stroke-opacity="0.11"/><line x1="7" y1="315.1" x2="544" y2="283.4" stroke-opacity="0.11"/><line x1="7" y1="316.6" x2="544" y2="285.7" stroke-opacity="0.06"/><line x1="7" y1="315.8" x2="544" y2="282.8" stroke-opacity="0.09"/><line x1="7" y1="308.9" x2="544" y2="284.1" stroke-opacity="0.09"/><line x1="7" y1="315.0" x2="544" y2="286.8" stroke-opacity="0.15"/><line x1="7" y1="305.9" x2="544" y2="278.8" stroke-opacity="0.06"/><line x1="7" y1="306.7" x2="544" y2="288.6" stroke-opacity="0.09"/><line x1="7" y1="307.6" x2="544" y2="272.5" stroke-opacity="0.15"/><line x1="7" y1="307.5" x2="544" y2="274.2" stroke-opacity="0.09"/><line x1="7" y1="315.4" x2="544" y2="281.7" stroke-opacity="0.09"/><line x1="7" y1="306.9" x2="544" y2="275.5" stroke-opacity="0.11"/><line x1="7" y1="311.1" x2="544" y2="285.6" stroke-opacity="0.15"/><line x1="7" y1="309.3" x2="544" y2="283.3" stroke-opacity="0.09"/><line x1="7" y1="309.0" x2="544" y2="274.9" stroke-opacity="0.11"/><line x1="7" y1="316.6" x2="544" y2="279.8" stroke-opacity="0.09"/><line x1="7" y1="305.4" x2="544" y2="279.9" stroke-opacity="0.11"/><line x1="7" y1="308.5" x2="544" y2="276.8" stroke-opacity="0.09"/><line x1="7" y1="307.3" x2="544" y2="282.0" stroke-opacity="0.15"/><line x1="7" y1="308.0" x2="544" y2="276.2" stroke-opacity="0.09"/><line x1="7" y1="306.9" x2="544" y2="275.3" stroke-opacity="0.11"/><line x1="7" y1="310.1" x2="544" y2="291.8" stroke-opacity="0.15"/><line x1="7" y1="311.4" x2="544" y2="284.5" stroke-opacity="0.11"/><line x1="7" y1="310.1" x2="544" y2="281.6" stroke-opacity="0.09"/><line x1="7" y1="306.0" x2="544" y2="272.9" stroke-opacity="0.09"/><line x1="7" y1="318.0" x2="544" y2="286.4" stroke-opacity="0.11"/><line x1="7" y1="316.2" x2="544" y2="284.6" stroke-opacity="0.06"/><line x1="7" y1="316.4" x2="544" y2="289.4" stroke-opacity="0.06"/><line x1="7" y1="306.9" x2="544" y2="276.9" stroke-opacity="0.06"/><line x1="7" y1="317.9" x2="544" y2="282.1" stroke-opacity="0.09"/><line x1="7" y1="308.1" x2="544" y2="282.9" stroke-opacity="0.09"/><line x1="7" y1="306.2" x2="544" y2="280.1" stroke-opacity="0.06"/><line x1="7" y1="315.1" x2="544" y2="283.7" stroke-opacity="0.15"/><line x1="7" y1="303.1" x2="544" y2="278.2" stroke-opacity="0.11"/><line x1="7" y1="311.8" x2="544" y2="273.7" stroke-opacity="0.06"/><line x1="7" y1="309.9" x2="544" y2="278.6" stroke-opacity="0.15"/><line x1="7" y1="305.0" x2="544" y2="281.1" stroke-opacity="0.09"/><line x1="7" y1="317.6" x2="544" y2="277.0" stroke-opacity="0.06"/><line x1="7" y1="305.8" x2="544" y2="280.3" stroke-opacity="0.06"/><line x1="7" y1="317.9" x2="544" y2="286.5" stroke-opacity="0.15"/><line x1="7" y1="318.3" x2="544" y2="283.9" stroke-opacity="0.15"/><line x1="7" y1="316.1" x2="544" y2="281.1" stroke-opacity="0.09"/><line x1="7" y1="310.4" x2="544" y2="282.3" stroke-opacity="0.09"/><line x1="7" y1="308.3" x2="544" y2="281.8" stroke-opacity="0.09"/><line x1="7" y1="309.0" x2="544" y2="284.6" stroke-opacity="0.15"/><line x1="7" y1="308.6" x2="544" y2="279.9" stroke-opacity="0.11"/><line x1="7" y1="314.9" x2="544" y2="290.8" stroke-opacity="0.06"/><line x1="7" y1="308.4" x2="544" y2="287.6" stroke-opacity="0.06"/><line x1="7" y1="313.0" x2="544" y2="289.1" stroke-opacity="0.09"/><line x1="7" y1="312.0" x2="544" y2="286.4" stroke-opacity="0.11"/><line x1="7" y1="309.1" x2="544" y2="285.1" stroke-opacity="0.09"/><line x1="7" y1="316.5" x2="544" y2="283.0" stroke-opacity="0.06"/><line x1="7" y1="316.5" x2="544" y2="291.6" stroke-opacity="0.09"/><line x1="7" y1="317.2" x2="544" y2="286.5" stroke-opacity="0.09"/><line x1="7" y1="316.7" x2="544" y2="290.6" stroke-opacity="0.13"/><line x1="7" y1="316.3" x2="544" y2="288.9" stroke-opacity="0.07"/><line x1="7" y1="318.0" x2="544" y2="288.4" stroke-opacity="0.13"/><line x1="7" y1="316.0" x2="544" y2="290.8" stroke-opacity="0.13"/><line x1="7" y1="317.6" x2="544" y2="290.3" stroke-opacity="0.07"/><line x1="7" y1="317.1" x2="544" y2="290.7" stroke-opacity="0.13"/><line x1="7" y1="317.5" x2="544" y2="290.5" stroke-opacity="0.07"/><line x1="7" y1="316.1" x2="544" y2="289.9" stroke-opacity="0.13"/><line x1="7" y1="317.2" x2="544" y2="288.2" stroke-opacity="0.1"/><line x1="7" y1="316.0" x2="544" y2="287.8" stroke-opacity="0.13"/><line x1="7" y1="316.9" x2="544" y2="290.8" stroke-opacity="0.07"/><line x1="7" y1="316.9" x2="544" y2="288.9" stroke-opacity="0.1"/><line x1="7" y1="317.8" x2="544" y2="290.9" stroke-opacity="0.1"/><line x1="7" y1="315.7" x2="544" y2="289.1" stroke-opacity="0.1"/><line x1="7" y1="322.2" x2="544" y2="312.5" stroke-opacity="0.1"/><line x1="7" y1="322.7" x2="544" y2="316.7" stroke-opacity="0.12"/><line x1="7" y1="321.3" x2="544" y2="313.4" stroke-opacity="0.07"/><line x1="7" y1="324.2" x2="544" y2="319.3" stroke-opacity="0.07"/><line x1="7" y1="322.1" x2="544" y2="313.7" stroke-opacity="0.12"/><line x1="7" y1="328.0" x2="544" y2="317.6" stroke-opacity="0.07"/><line x1="7" y1="323.6" x2="544" y2="298.2" stroke-opacity="0.16"/><line x1="7" y1="325.0" x2="544" y2="296.2" stroke-opacity="0.1"/><line x1="7" y1="321.2" x2="544" y2="320.2" stroke-opacity="0.1"/><line x1="7" y1="326.6" x2="544" y2="299.8" stroke-opacity="0.12"/><line x1="7" y1="323.3" x2="544" y2="316.3" stroke-opacity="0.07"/><line x1="7" y1="321.2" x2="544" y2="319.1" stroke-opacity="0.1"/><line x1="7" y1="323.4" x2="544" y2="316.9" stroke-opacity="0.16"/><line x1="7" y1="325.7" x2="544" y2="313.4" stroke-opacity="0.07"/><line x1="7" y1="324.2" x2="544" y2="297.9" stroke-opacity="0.1"/><line x1="7" y1="321.4" x2="544" y2="298.6" stroke-opacity="0.16"/><line x1="7" y1="326.3" x2="544" y2="314.9" stroke-opacity="0.07"/><line x1="7" y1="322.1" x2="544" y2="305.8" stroke-opacity="0.1"/><line x1="7" y1="325.9" x2="544" y2="301.3" stroke-opacity="0.1"/><line x1="7" y1="322.3" x2="544" y2="310.1" stroke-opacity="0.16"/><line x1="7" y1="322.5" x2="544" y2="316.6" stroke-opacity="0.16"/><line x1="7" y1="327.2" x2="544" y2="310.7" stroke-opacity="0.07"/><line x1="7" y1="324.6" x2="544" y2="319.5" stroke-opacity="0.12"/><line x1="7" y1="324.0" x2="544" y2="301.6" stroke-opacity="0.12"/><line x1="7" y1="322.1" x2="544" y2="297.6" stroke-opacity="0.2"/><line x1="7" y1="322.2" x2="544" y2="297.8" stroke-opacity="0.16"/><line x1="7" y1="322.3" x2="544" y2="295.7" stroke-opacity="0.2"/><line x1="7" y1="321.4" x2="544" y2="297.2" stroke-opacity="0.16"/><line x1="7" y1="321.5" x2="544" y2="296.6" stroke-opacity="0.2"/><line x1="7" y1="321.2" x2="544" y2="295.9" stroke-opacity="0.12"/><line x1="7" y1="321.3" x2="544" y2="296.6" stroke-opacity="0.2"/><line x1="7" y1="322.1" x2="544" y2="296.1" stroke-opacity="0.16"/><line x1="7" y1="329.7" x2="544" y2="328.4" stroke-opacity="0.12"/><line x1="7" y1="326.9" x2="544" y2="328.6" stroke-opacity="0.08"/><line x1="7" y1="321.8" x2="544" y2="327.7" stroke-opacity="0.12"/><line x1="7" y1="329.3" x2="544" y2="327.7" stroke-opacity="0.16"/><line x1="7" y1="326.1" x2="544" y2="329.5" stroke-opacity="0.16"/><line x1="7" y1="322.4" x2="544" y2="324.8" stroke-opacity="0.08"/><line x1="7" y1="325.2" x2="544" y2="329.8" stroke-opacity="0.12"/><line x1="7" y1="322.5" x2="544" y2="326.3" stroke-opacity="0.08"/><line x1="7" y1="322.5" x2="544" y2="327.5" stroke-opacity="0.16"/><line x1="7" y1="329.2" x2="544" y2="324.4" stroke-opacity="0.16"/><line x1="7" y1="326.0" x2="544" y2="325.0" stroke-opacity="0.08"/><line x1="7" y1="325.8" x2="544" y2="329.2" stroke-opacity="0.12"/><line x1="7" y1="326.4" x2="544" y2="325.9" stroke-opacity="0.16"/><line x1="7" y1="322.2" x2="544" y2="327.3" stroke-opacity="0.12"/><line x1="7" y1="326.7" x2="544" y2="327.4" stroke-opacity="0.16"/><line x1="7" y1="324.8" x2="544" y2="327.3" stroke-opacity="0.12"/><line x1="7" y1="325.4" x2="544" y2="327.3" stroke-opacity="0.16"/><line x1="7" y1="325.6" x2="544" y2="328.7" stroke-opacity="0.08"/><line x1="7" y1="323.6" x2="544" y2="325.6" stroke-opacity="0.16"/><line x1="7" y1="326.1" x2="544" y2="330.0" stroke-opacity="0.12"/><line x1="7" y1="321.6" x2="544" y2="326.4" stroke-opacity="0.08"/><line x1="7" y1="324.3" x2="544" y2="326.2" stroke-opacity="0.12"/><line x1="7" y1="323.9" x2="544" y2="330.4" stroke-opacity="0.12"/><line x1="7" y1="322.0" x2="544" y2="323.5" stroke-opacity="0.16"/><line x1="7" y1="322.1" x2="544" y2="329.0" stroke-opacity="0.12"/><line x1="7" y1="327.1" x2="544" y2="327.2" stroke-opacity="0.12"/><line x1="7" y1="324.5" x2="544" y2="328.3" stroke-opacity="0.16"/><line x1="7" y1="323.4" x2="544" y2="329.9" stroke-opacity="0.16"/><line x1="7" y1="329.4" x2="544" y2="326.7" stroke-opacity="0.16"/><line x1="7" y1="324.5" x2="544" y2="327.9" stroke-opacity="0.16"/><line x1="7" y1="326.7" x2="544" y2="325.9" stroke-opacity="0.16"/><line x1="7" y1="322.3" x2="544" y2="328.9" stroke-opacity="0.12"/><line x1="7" y1="323.8" x2="544" y2="327.7" stroke-opacity="0.16"/><line x1="7" y1="329.3" x2="544" y2="324.8" stroke-opacity="0.08"/><line x1="7" y1="321.5" x2="544" y2="328.4" stroke-opacity="0.16"/><line x1="7" y1="322.5" x2="544" y2="326.6" stroke-opacity="0.16"/></g><rect x="6.1" y="146" width="538.9" height="184.89999999999998" fill="none" stroke="#61769a" stroke-width="1.7"/><line x1="7" y1="317.6" x2="544" y2="291.5" stroke="#e4e4e4" stroke-opacity="0.55" stroke-width="1"/><line x1="7" y1="319.9" x2="544" y2="293.8" stroke="#d40d0d" stroke-width="2.3"/><g fill="none" stroke="#d40d0d" stroke-width="1.4"><circle cx="457.5" cy="22.2" r="3.6"/><polyline points="453.9,22.5 398.5,22.5 398.5,296"/></g><path d="M395.6,292.6 L398.5,298.2 L401.4,292.6" fill="none" stroke="#d40d0d" stroke-width="1.3"/><g font-family="Liberation Serif, serif" font-size="10.5" fill="#1a1a1a" stroke="#1a1a1a" stroke-width="0.25"><text x="37.2" y="10.2">All of the elite solutions</text><text x="225.6" y="10.2">Top 50% elite solutions</text><text x="412" y="10.2">Top 10% elite solutions</text><text x="408.6" y="141.3">Distribution of the elite solutions</text><text x="110.3" y="98.8">Genes</text><text x="269.4" y="78.8">Genes</text><text transform="translate(396.9,94.0) rotate(-90)">Selected solution</text></g></svg></body></html>
